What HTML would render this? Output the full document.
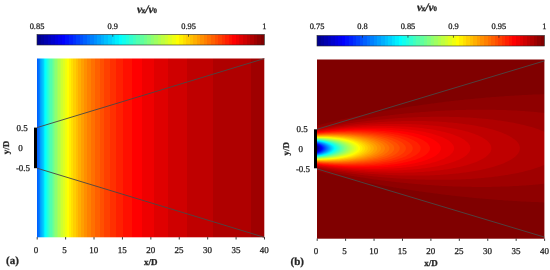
<!DOCTYPE html><html><head><meta charset="utf-8"><title>figure</title>
<style>html,body{margin:0;padding:0;background:#fff;}svg{display:block}text{font-family:"Liberation Serif", "DejaVu Serif", serif;fill:#262626;text-rendering:geometricPrecision;stroke:#262626;stroke-width:0.28px}</style></head><body>
<svg width="550" height="270" viewBox="0 0 550 270">
<rect width="550" height="270" fill="#fff"/>
<g id="plot-a">
<defs><linearGradient id="cb37" x1="0" y1="0" x2="1" y2="0"><stop offset="0.00000" stop-color="#00008f"/><stop offset="0.01562" stop-color="#00008f"/><stop offset="0.01562" stop-color="#00009f"/><stop offset="0.03125" stop-color="#00009f"/><stop offset="0.03125" stop-color="#0000af"/><stop offset="0.04688" stop-color="#0000af"/><stop offset="0.04688" stop-color="#0000bf"/><stop offset="0.06250" stop-color="#0000bf"/><stop offset="0.06250" stop-color="#0000cf"/><stop offset="0.07812" stop-color="#0000cf"/><stop offset="0.07812" stop-color="#0000df"/><stop offset="0.09375" stop-color="#0000df"/><stop offset="0.09375" stop-color="#0000ef"/><stop offset="0.10938" stop-color="#0000ef"/><stop offset="0.10938" stop-color="#0000ff"/><stop offset="0.12500" stop-color="#0000ff"/><stop offset="0.12500" stop-color="#0010ff"/><stop offset="0.14062" stop-color="#0010ff"/><stop offset="0.14062" stop-color="#0020ff"/><stop offset="0.15625" stop-color="#0020ff"/><stop offset="0.15625" stop-color="#0030ff"/><stop offset="0.17188" stop-color="#0030ff"/><stop offset="0.17188" stop-color="#0040ff"/><stop offset="0.18750" stop-color="#0040ff"/><stop offset="0.18750" stop-color="#0050ff"/><stop offset="0.20312" stop-color="#0050ff"/><stop offset="0.20312" stop-color="#0060ff"/><stop offset="0.21875" stop-color="#0060ff"/><stop offset="0.21875" stop-color="#0070ff"/><stop offset="0.23438" stop-color="#0070ff"/><stop offset="0.23438" stop-color="#0080ff"/><stop offset="0.25000" stop-color="#0080ff"/><stop offset="0.25000" stop-color="#008fff"/><stop offset="0.26562" stop-color="#008fff"/><stop offset="0.26562" stop-color="#009fff"/><stop offset="0.28125" stop-color="#009fff"/><stop offset="0.28125" stop-color="#00afff"/><stop offset="0.29688" stop-color="#00afff"/><stop offset="0.29688" stop-color="#00bfff"/><stop offset="0.31250" stop-color="#00bfff"/><stop offset="0.31250" stop-color="#00cfff"/><stop offset="0.32812" stop-color="#00cfff"/><stop offset="0.32812" stop-color="#00dfff"/><stop offset="0.34375" stop-color="#00dfff"/><stop offset="0.34375" stop-color="#00efff"/><stop offset="0.35938" stop-color="#00efff"/><stop offset="0.35938" stop-color="#00ffff"/><stop offset="0.37500" stop-color="#00ffff"/><stop offset="0.37500" stop-color="#10ffef"/><stop offset="0.39062" stop-color="#10ffef"/><stop offset="0.39062" stop-color="#20ffdf"/><stop offset="0.40625" stop-color="#20ffdf"/><stop offset="0.40625" stop-color="#30ffcf"/><stop offset="0.42188" stop-color="#30ffcf"/><stop offset="0.42188" stop-color="#40ffbf"/><stop offset="0.43750" stop-color="#40ffbf"/><stop offset="0.43750" stop-color="#50ffaf"/><stop offset="0.45312" stop-color="#50ffaf"/><stop offset="0.45312" stop-color="#60ff9f"/><stop offset="0.46875" stop-color="#60ff9f"/><stop offset="0.46875" stop-color="#70ff8f"/><stop offset="0.48438" stop-color="#70ff8f"/><stop offset="0.48438" stop-color="#80ff80"/><stop offset="0.50000" stop-color="#80ff80"/><stop offset="0.50000" stop-color="#8fff70"/><stop offset="0.51562" stop-color="#8fff70"/><stop offset="0.51562" stop-color="#9fff60"/><stop offset="0.53125" stop-color="#9fff60"/><stop offset="0.53125" stop-color="#afff50"/><stop offset="0.54688" stop-color="#afff50"/><stop offset="0.54688" stop-color="#bfff40"/><stop offset="0.56250" stop-color="#bfff40"/><stop offset="0.56250" stop-color="#cfff30"/><stop offset="0.57812" stop-color="#cfff30"/><stop offset="0.57812" stop-color="#dfff20"/><stop offset="0.59375" stop-color="#dfff20"/><stop offset="0.59375" stop-color="#efff10"/><stop offset="0.60938" stop-color="#efff10"/><stop offset="0.60938" stop-color="#ffff00"/><stop offset="0.62500" stop-color="#ffff00"/><stop offset="0.62500" stop-color="#ffef00"/><stop offset="0.64062" stop-color="#ffef00"/><stop offset="0.64062" stop-color="#ffdf00"/><stop offset="0.65625" stop-color="#ffdf00"/><stop offset="0.65625" stop-color="#ffcf00"/><stop offset="0.67188" stop-color="#ffcf00"/><stop offset="0.67188" stop-color="#ffbf00"/><stop offset="0.68750" stop-color="#ffbf00"/><stop offset="0.68750" stop-color="#ffaf00"/><stop offset="0.70312" stop-color="#ffaf00"/><stop offset="0.70312" stop-color="#ff9f00"/><stop offset="0.71875" stop-color="#ff9f00"/><stop offset="0.71875" stop-color="#ff8f00"/><stop offset="0.73438" stop-color="#ff8f00"/><stop offset="0.73438" stop-color="#ff8000"/><stop offset="0.75000" stop-color="#ff8000"/><stop offset="0.75000" stop-color="#ff7000"/><stop offset="0.76562" stop-color="#ff7000"/><stop offset="0.76562" stop-color="#ff6000"/><stop offset="0.78125" stop-color="#ff6000"/><stop offset="0.78125" stop-color="#ff5000"/><stop offset="0.79688" stop-color="#ff5000"/><stop offset="0.79688" stop-color="#ff4000"/><stop offset="0.81250" stop-color="#ff4000"/><stop offset="0.81250" stop-color="#ff3000"/><stop offset="0.82812" stop-color="#ff3000"/><stop offset="0.82812" stop-color="#ff2000"/><stop offset="0.84375" stop-color="#ff2000"/><stop offset="0.84375" stop-color="#ff1000"/><stop offset="0.85938" stop-color="#ff1000"/><stop offset="0.85938" stop-color="#ff0000"/><stop offset="0.87500" stop-color="#ff0000"/><stop offset="0.87500" stop-color="#ef0000"/><stop offset="0.89062" stop-color="#ef0000"/><stop offset="0.89062" stop-color="#df0000"/><stop offset="0.90625" stop-color="#df0000"/><stop offset="0.90625" stop-color="#cf0000"/><stop offset="0.92188" stop-color="#cf0000"/><stop offset="0.92188" stop-color="#bf0000"/><stop offset="0.93750" stop-color="#bf0000"/><stop offset="0.93750" stop-color="#af0000"/><stop offset="0.95312" stop-color="#af0000"/><stop offset="0.95312" stop-color="#9f0000"/><stop offset="0.96875" stop-color="#9f0000"/><stop offset="0.96875" stop-color="#8f0000"/><stop offset="0.98438" stop-color="#8f0000"/><stop offset="0.98438" stop-color="#800000"/><stop offset="1.00000" stop-color="#800000"/></linearGradient></defs><rect x="37.00" y="34.50" width="227.30" height="10.50" fill="url(#cb37)"/><rect x="37.00" y="34.50" width="227.30" height="10.50" fill="none" stroke="#262626" stroke-width="0.6"/>
<text x="37.00" y="28.50" text-anchor="middle" font-size="8.4" font-weight="normal" font-style="normal" >0.85</text>
<line x1="112.77" y1="34.50" x2="112.77" y2="36.70" stroke="#262626" stroke-width="0.7"/>
<text x="112.77" y="28.50" text-anchor="middle" font-size="8.4" font-weight="normal" font-style="normal" >0.9</text>
<line x1="188.53" y1="34.50" x2="188.53" y2="36.70" stroke="#262626" stroke-width="0.7"/>
<text x="188.53" y="28.50" text-anchor="middle" font-size="8.4" font-weight="normal" font-style="normal" >0.95</text>
<text x="264.30" y="28.50" text-anchor="middle" font-size="8.4" font-weight="normal" font-style="normal" >1</text>
<defs><linearGradient id="ga" x1="0" y1="0" x2="1" y2="0"><stop offset="0.00000" stop-color="#0050ff"/><stop offset="0.00183" stop-color="#0050ff"/><stop offset="0.00183" stop-color="#0060ff"/><stop offset="0.00483" stop-color="#0060ff"/><stop offset="0.00483" stop-color="#0070ff"/><stop offset="0.00791" stop-color="#0070ff"/><stop offset="0.00791" stop-color="#0080ff"/><stop offset="0.01109" stop-color="#0080ff"/><stop offset="0.01109" stop-color="#008fff"/><stop offset="0.01437" stop-color="#008fff"/><stop offset="0.01437" stop-color="#009fff"/><stop offset="0.01776" stop-color="#009fff"/><stop offset="0.01776" stop-color="#00afff"/><stop offset="0.02126" stop-color="#00afff"/><stop offset="0.02126" stop-color="#00bfff"/><stop offset="0.02488" stop-color="#00bfff"/><stop offset="0.02488" stop-color="#00cfff"/><stop offset="0.02863" stop-color="#00cfff"/><stop offset="0.02863" stop-color="#00dfff"/><stop offset="0.03250" stop-color="#00dfff"/><stop offset="0.03250" stop-color="#00efff"/><stop offset="0.03652" stop-color="#00efff"/><stop offset="0.03652" stop-color="#00ffff"/><stop offset="0.04069" stop-color="#00ffff"/><stop offset="0.04069" stop-color="#10ffef"/><stop offset="0.04502" stop-color="#10ffef"/><stop offset="0.04502" stop-color="#20ffdf"/><stop offset="0.04952" stop-color="#20ffdf"/><stop offset="0.04952" stop-color="#30ffcf"/><stop offset="0.05420" stop-color="#30ffcf"/><stop offset="0.05420" stop-color="#40ffbf"/><stop offset="0.05907" stop-color="#40ffbf"/><stop offset="0.05907" stop-color="#50ffaf"/><stop offset="0.06415" stop-color="#50ffaf"/><stop offset="0.06415" stop-color="#60ff9f"/><stop offset="0.06945" stop-color="#60ff9f"/><stop offset="0.06945" stop-color="#70ff8f"/><stop offset="0.07499" stop-color="#70ff8f"/><stop offset="0.07499" stop-color="#80ff80"/><stop offset="0.08079" stop-color="#80ff80"/><stop offset="0.08079" stop-color="#8fff70"/><stop offset="0.08687" stop-color="#8fff70"/><stop offset="0.08687" stop-color="#9fff60"/><stop offset="0.09325" stop-color="#9fff60"/><stop offset="0.09325" stop-color="#afff50"/><stop offset="0.09996" stop-color="#afff50"/><stop offset="0.09996" stop-color="#bfff40"/><stop offset="0.10702" stop-color="#bfff40"/><stop offset="0.10702" stop-color="#cfff30"/><stop offset="0.11447" stop-color="#cfff30"/><stop offset="0.11447" stop-color="#dfff20"/><stop offset="0.12235" stop-color="#dfff20"/><stop offset="0.12235" stop-color="#efff10"/><stop offset="0.13069" stop-color="#efff10"/><stop offset="0.13069" stop-color="#ffff00"/><stop offset="0.13955" stop-color="#ffff00"/><stop offset="0.13955" stop-color="#ffef00"/><stop offset="0.14899" stop-color="#ffef00"/><stop offset="0.14899" stop-color="#ffdf00"/><stop offset="0.15906" stop-color="#ffdf00"/><stop offset="0.15906" stop-color="#ffcf00"/><stop offset="0.16984" stop-color="#ffcf00"/><stop offset="0.16984" stop-color="#ffbf00"/><stop offset="0.18142" stop-color="#ffbf00"/><stop offset="0.18142" stop-color="#ffaf00"/><stop offset="0.19390" stop-color="#ffaf00"/><stop offset="0.19390" stop-color="#ff9f00"/><stop offset="0.20740" stop-color="#ff9f00"/><stop offset="0.20740" stop-color="#ff8f00"/><stop offset="0.22209" stop-color="#ff8f00"/><stop offset="0.22209" stop-color="#ff8000"/><stop offset="0.23813" stop-color="#ff8000"/><stop offset="0.23813" stop-color="#ff7000"/><stop offset="0.25574" stop-color="#ff7000"/><stop offset="0.25574" stop-color="#ff6000"/><stop offset="0.27521" stop-color="#ff6000"/><stop offset="0.27521" stop-color="#ff5000"/><stop offset="0.29689" stop-color="#ff5000"/><stop offset="0.29689" stop-color="#ff4000"/><stop offset="0.32123" stop-color="#ff4000"/><stop offset="0.32123" stop-color="#ff3000"/><stop offset="0.34881" stop-color="#ff3000"/><stop offset="0.34881" stop-color="#ff2000"/><stop offset="0.38043" stop-color="#ff2000"/><stop offset="0.38043" stop-color="#ff1000"/><stop offset="0.41718" stop-color="#ff1000"/><stop offset="0.41718" stop-color="#ff0000"/><stop offset="0.46063" stop-color="#ff0000"/><stop offset="0.46063" stop-color="#ef0000"/><stop offset="0.51308" stop-color="#ef0000"/><stop offset="0.51308" stop-color="#df0000"/><stop offset="0.57815" stop-color="#df0000"/><stop offset="0.57815" stop-color="#cf0000"/><stop offset="0.66187" stop-color="#cf0000"/><stop offset="0.66187" stop-color="#bf0000"/><stop offset="0.77529" stop-color="#bf0000"/><stop offset="0.77529" stop-color="#af0000"/><stop offset="0.94150" stop-color="#af0000"/><stop offset="0.94150" stop-color="#9f0000"/><stop offset="1.00000" stop-color="#9f0000"/></linearGradient></defs><rect x="37.00" y="58.50" width="227.30" height="178.80" fill="url(#ga)"/>
<line x1="37.00" y1="127.60" x2="264.30" y2="58.60" stroke="#4c4644" stroke-width="1" stroke-opacity="0.92"/>
<line x1="37.00" y1="168.20" x2="264.30" y2="237.30" stroke="#4c4644" stroke-width="1" stroke-opacity="0.92"/>
<rect x="34.00" y="127.60" width="3" height="40.60" fill="#000"/>
<line x1="37.20" y1="237.10" x2="37.20" y2="239.50" stroke="#222" stroke-width="0.9"/><line x1="65.61" y1="237.10" x2="65.61" y2="239.50" stroke="#222" stroke-width="0.9"/><line x1="94.03" y1="237.10" x2="94.03" y2="239.50" stroke="#222" stroke-width="0.9"/><line x1="122.44" y1="237.10" x2="122.44" y2="239.50" stroke="#222" stroke-width="0.9"/><line x1="150.85" y1="237.10" x2="150.85" y2="239.50" stroke="#222" stroke-width="0.9"/><line x1="179.26" y1="237.10" x2="179.26" y2="239.50" stroke="#222" stroke-width="0.9"/><line x1="207.68" y1="237.10" x2="207.68" y2="239.50" stroke="#222" stroke-width="0.9"/><line x1="236.09" y1="237.10" x2="236.09" y2="239.50" stroke="#222" stroke-width="0.9"/><line x1="264.50" y1="237.10" x2="264.50" y2="239.50" stroke="#222" stroke-width="0.9"/>
<text x="36.00" y="252.60" text-anchor="middle" font-size="9" font-weight="normal" font-style="normal" >0</text>
<text x="64.41" y="252.60" text-anchor="middle" font-size="9" font-weight="normal" font-style="normal" >5</text>
<text x="93.83" y="252.60" text-anchor="middle" font-size="9" font-weight="normal" font-style="normal" >10</text>
<text x="122.24" y="252.60" text-anchor="middle" font-size="9" font-weight="normal" font-style="normal" >15</text>
<text x="150.65" y="252.60" text-anchor="middle" font-size="9" font-weight="normal" font-style="normal" >20</text>
<text x="179.06" y="252.60" text-anchor="middle" font-size="9" font-weight="normal" font-style="normal" >25</text>
<text x="207.48" y="252.60" text-anchor="middle" font-size="9" font-weight="normal" font-style="normal" >30</text>
<text x="235.89" y="252.60" text-anchor="middle" font-size="9" font-weight="normal" font-style="normal" >35</text>
<text x="264.30" y="252.60" text-anchor="middle" font-size="9" font-weight="normal" font-style="normal" >40</text>
<text x="22.00" y="130.70" text-anchor="middle" font-size="9" font-weight="normal" font-style="normal" >0.5</text>
<text x="20.60" y="151.00" text-anchor="middle" font-size="9" font-weight="normal" font-style="normal" >0</text>
<text x="23.00" y="171.00" text-anchor="middle" font-size="9" font-weight="normal" font-style="normal" >-0.5</text>
<text x="150.70" y="264.80" text-anchor="middle" font-size="9" font-weight="bold" font-style="normal" >x/D</text>
<text transform="translate(8.6,147.6) rotate(-90)" text-anchor="middle" font-size="9" font-weight="bold">y/D</text>
<text x="6.00" y="264.30" text-anchor="start" font-size="11" font-weight="bold" font-style="normal" >(a)</text>
<text x="136.90" y="12.70" text-anchor="start" font-size="11.5" font-weight="bold" font-style="italic">v<tspan font-size="7.6" font-style="normal" dy="0.2" dx="-0.5">x</tspan><tspan dy="-0.2">/</tspan>v<tspan font-size="6.9" font-style="normal" dy="0.2">0</tspan></text>
</g>
<g id="plot-b">
<defs><linearGradient id="cb317" x1="0" y1="0" x2="1" y2="0"><stop offset="0.00000" stop-color="#00008f"/><stop offset="0.01562" stop-color="#00008f"/><stop offset="0.01562" stop-color="#00009f"/><stop offset="0.03125" stop-color="#00009f"/><stop offset="0.03125" stop-color="#0000af"/><stop offset="0.04688" stop-color="#0000af"/><stop offset="0.04688" stop-color="#0000bf"/><stop offset="0.06250" stop-color="#0000bf"/><stop offset="0.06250" stop-color="#0000cf"/><stop offset="0.07812" stop-color="#0000cf"/><stop offset="0.07812" stop-color="#0000df"/><stop offset="0.09375" stop-color="#0000df"/><stop offset="0.09375" stop-color="#0000ef"/><stop offset="0.10938" stop-color="#0000ef"/><stop offset="0.10938" stop-color="#0000ff"/><stop offset="0.12500" stop-color="#0000ff"/><stop offset="0.12500" stop-color="#0010ff"/><stop offset="0.14062" stop-color="#0010ff"/><stop offset="0.14062" stop-color="#0020ff"/><stop offset="0.15625" stop-color="#0020ff"/><stop offset="0.15625" stop-color="#0030ff"/><stop offset="0.17188" stop-color="#0030ff"/><stop offset="0.17188" stop-color="#0040ff"/><stop offset="0.18750" stop-color="#0040ff"/><stop offset="0.18750" stop-color="#0050ff"/><stop offset="0.20312" stop-color="#0050ff"/><stop offset="0.20312" stop-color="#0060ff"/><stop offset="0.21875" stop-color="#0060ff"/><stop offset="0.21875" stop-color="#0070ff"/><stop offset="0.23438" stop-color="#0070ff"/><stop offset="0.23438" stop-color="#0080ff"/><stop offset="0.25000" stop-color="#0080ff"/><stop offset="0.25000" stop-color="#008fff"/><stop offset="0.26562" stop-color="#008fff"/><stop offset="0.26562" stop-color="#009fff"/><stop offset="0.28125" stop-color="#009fff"/><stop offset="0.28125" stop-color="#00afff"/><stop offset="0.29688" stop-color="#00afff"/><stop offset="0.29688" stop-color="#00bfff"/><stop offset="0.31250" stop-color="#00bfff"/><stop offset="0.31250" stop-color="#00cfff"/><stop offset="0.32812" stop-color="#00cfff"/><stop offset="0.32812" stop-color="#00dfff"/><stop offset="0.34375" stop-color="#00dfff"/><stop offset="0.34375" stop-color="#00efff"/><stop offset="0.35938" stop-color="#00efff"/><stop offset="0.35938" stop-color="#00ffff"/><stop offset="0.37500" stop-color="#00ffff"/><stop offset="0.37500" stop-color="#10ffef"/><stop offset="0.39062" stop-color="#10ffef"/><stop offset="0.39062" stop-color="#20ffdf"/><stop offset="0.40625" stop-color="#20ffdf"/><stop offset="0.40625" stop-color="#30ffcf"/><stop offset="0.42188" stop-color="#30ffcf"/><stop offset="0.42188" stop-color="#40ffbf"/><stop offset="0.43750" stop-color="#40ffbf"/><stop offset="0.43750" stop-color="#50ffaf"/><stop offset="0.45312" stop-color="#50ffaf"/><stop offset="0.45312" stop-color="#60ff9f"/><stop offset="0.46875" stop-color="#60ff9f"/><stop offset="0.46875" stop-color="#70ff8f"/><stop offset="0.48438" stop-color="#70ff8f"/><stop offset="0.48438" stop-color="#80ff80"/><stop offset="0.50000" stop-color="#80ff80"/><stop offset="0.50000" stop-color="#8fff70"/><stop offset="0.51562" stop-color="#8fff70"/><stop offset="0.51562" stop-color="#9fff60"/><stop offset="0.53125" stop-color="#9fff60"/><stop offset="0.53125" stop-color="#afff50"/><stop offset="0.54688" stop-color="#afff50"/><stop offset="0.54688" stop-color="#bfff40"/><stop offset="0.56250" stop-color="#bfff40"/><stop offset="0.56250" stop-color="#cfff30"/><stop offset="0.57812" stop-color="#cfff30"/><stop offset="0.57812" stop-color="#dfff20"/><stop offset="0.59375" stop-color="#dfff20"/><stop offset="0.59375" stop-color="#efff10"/><stop offset="0.60938" stop-color="#efff10"/><stop offset="0.60938" stop-color="#ffff00"/><stop offset="0.62500" stop-color="#ffff00"/><stop offset="0.62500" stop-color="#ffef00"/><stop offset="0.64062" stop-color="#ffef00"/><stop offset="0.64062" stop-color="#ffdf00"/><stop offset="0.65625" stop-color="#ffdf00"/><stop offset="0.65625" stop-color="#ffcf00"/><stop offset="0.67188" stop-color="#ffcf00"/><stop offset="0.67188" stop-color="#ffbf00"/><stop offset="0.68750" stop-color="#ffbf00"/><stop offset="0.68750" stop-color="#ffaf00"/><stop offset="0.70312" stop-color="#ffaf00"/><stop offset="0.70312" stop-color="#ff9f00"/><stop offset="0.71875" stop-color="#ff9f00"/><stop offset="0.71875" stop-color="#ff8f00"/><stop offset="0.73438" stop-color="#ff8f00"/><stop offset="0.73438" stop-color="#ff8000"/><stop offset="0.75000" stop-color="#ff8000"/><stop offset="0.75000" stop-color="#ff7000"/><stop offset="0.76562" stop-color="#ff7000"/><stop offset="0.76562" stop-color="#ff6000"/><stop offset="0.78125" stop-color="#ff6000"/><stop offset="0.78125" stop-color="#ff5000"/><stop offset="0.79688" stop-color="#ff5000"/><stop offset="0.79688" stop-color="#ff4000"/><stop offset="0.81250" stop-color="#ff4000"/><stop offset="0.81250" stop-color="#ff3000"/><stop offset="0.82812" stop-color="#ff3000"/><stop offset="0.82812" stop-color="#ff2000"/><stop offset="0.84375" stop-color="#ff2000"/><stop offset="0.84375" stop-color="#ff1000"/><stop offset="0.85938" stop-color="#ff1000"/><stop offset="0.85938" stop-color="#ff0000"/><stop offset="0.87500" stop-color="#ff0000"/><stop offset="0.87500" stop-color="#ef0000"/><stop offset="0.89062" stop-color="#ef0000"/><stop offset="0.89062" stop-color="#df0000"/><stop offset="0.90625" stop-color="#df0000"/><stop offset="0.90625" stop-color="#cf0000"/><stop offset="0.92188" stop-color="#cf0000"/><stop offset="0.92188" stop-color="#bf0000"/><stop offset="0.93750" stop-color="#bf0000"/><stop offset="0.93750" stop-color="#af0000"/><stop offset="0.95312" stop-color="#af0000"/><stop offset="0.95312" stop-color="#9f0000"/><stop offset="0.96875" stop-color="#9f0000"/><stop offset="0.96875" stop-color="#8f0000"/><stop offset="0.98438" stop-color="#8f0000"/><stop offset="0.98438" stop-color="#800000"/><stop offset="1.00000" stop-color="#800000"/></linearGradient></defs><rect x="317.00" y="35.50" width="227.40" height="10.50" fill="url(#cb317)"/><rect x="317.00" y="35.50" width="227.40" height="10.50" fill="none" stroke="#262626" stroke-width="0.6"/>
<text x="317.00" y="29.10" text-anchor="middle" font-size="8.4" font-weight="normal" font-style="normal" >0.75</text>
<line x1="362.48" y1="35.50" x2="362.48" y2="37.70" stroke="#262626" stroke-width="0.7"/>
<text x="362.48" y="29.10" text-anchor="middle" font-size="8.4" font-weight="normal" font-style="normal" >0.8</text>
<line x1="407.96" y1="35.50" x2="407.96" y2="37.70" stroke="#262626" stroke-width="0.7"/>
<text x="407.96" y="29.10" text-anchor="middle" font-size="8.4" font-weight="normal" font-style="normal" >0.85</text>
<line x1="453.44" y1="35.50" x2="453.44" y2="37.70" stroke="#262626" stroke-width="0.7"/>
<text x="453.44" y="29.10" text-anchor="middle" font-size="8.4" font-weight="normal" font-style="normal" >0.9</text>
<line x1="498.92" y1="35.50" x2="498.92" y2="37.70" stroke="#262626" stroke-width="0.7"/>
<text x="498.92" y="29.10" text-anchor="middle" font-size="8.4" font-weight="normal" font-style="normal" >0.95</text>
<text x="544.40" y="29.10" text-anchor="middle" font-size="8.4" font-weight="normal" font-style="normal" >1</text>
<rect x="317.00" y="57.50" width="230.40" height="183.20" fill="#800000"/><path d="M317.0,125.5 L318.5,125.1 L320.0,124.7 L321.5,124.3 L323.0,124.0 L324.6,123.6 L326.1,123.2 L327.6,122.8 L329.1,122.5 L330.6,122.1 L332.1,121.7 L333.6,121.4 L335.1,121.0 L336.6,120.7 L338.2,120.3 L339.7,120.0 L341.2,119.6 L342.7,119.3 L344.2,119.0 L345.7,118.6 L347.2,118.3 L348.7,118.0 L350.2,117.6 L351.8,117.3 L353.3,117.0 L354.8,116.7 L356.3,116.3 L357.8,116.0 L359.3,115.7 L360.8,115.4 L362.3,115.1 L363.8,114.8 L365.4,114.5 L366.9,114.2 L368.4,113.9 L369.9,113.6 L371.4,113.3 L372.9,113.0 L374.4,112.8 L375.9,112.5 L377.4,112.2 L379.0,111.9 L380.5,111.6 L382.0,111.4 L383.5,111.1 L385.0,110.8 L386.5,110.5 L388.0,110.3 L389.5,110.0 L391.0,109.8 L392.6,109.5 L394.1,109.2 L395.6,109.0 L397.1,108.7 L398.6,108.5 L400.1,108.2 L401.6,108.0 L403.1,107.8 L404.6,107.5 L406.1,107.3 L407.7,107.0 L409.2,106.8 L410.7,106.6 L412.2,106.3 L413.7,106.1 L415.2,105.9 L416.7,105.7 L418.2,105.5 L419.7,105.2 L421.3,105.0 L422.8,104.8 L424.3,104.6 L425.8,104.4 L427.3,104.2 L428.8,104.0 L430.3,103.8 L431.8,103.6 L433.3,103.4 L434.9,103.2 L436.4,103.0 L437.9,102.8 L439.4,102.6 L440.9,102.4 L442.4,102.2 L443.9,102.0 L445.4,101.8 L446.9,101.6 L448.5,101.5 L450.0,101.3 L451.5,101.1 L453.0,100.9 L454.5,100.8 L456.0,100.6 L457.5,100.4 L459.0,100.3 L460.5,100.1 L462.1,99.9 L463.6,99.8 L465.1,99.6 L466.6,99.5 L468.1,99.3 L469.6,99.2 L471.1,99.0 L472.6,98.9 L474.1,98.7 L475.7,98.6 L477.2,98.4 L478.7,98.3 L480.2,98.2 L481.7,98.0 L483.2,97.9 L484.7,97.8 L486.2,97.6 L487.7,97.5 L489.3,97.4 L490.8,97.3 L492.3,97.1 L493.8,97.0 L495.3,96.9 L496.8,96.8 L498.3,96.7 L499.8,96.6 L501.3,96.5 L502.9,96.4 L504.4,96.2 L505.9,96.1 L507.4,96.0 L508.9,95.9 L510.4,95.8 L511.9,95.8 L513.4,95.7 L514.9,95.6 L516.5,95.5 L518.0,95.4 L519.5,95.3 L521.0,95.2 L522.5,95.1 L524.0,95.1 L525.5,95.0 L527.0,94.9 L528.5,94.8 L530.1,94.8 L531.6,94.7 L533.1,94.6 L534.6,94.6 L536.1,94.5 L537.6,94.5 L539.1,94.4 L540.6,94.3 L542.1,94.3 L543.7,94.2 L545.2,94.2 L546.7,94.1 L546.7,202.5 L545.2,202.4 L543.7,202.4 L542.1,202.3 L540.6,202.3 L539.1,202.2 L537.6,202.1 L536.1,202.1 L534.6,202.0 L533.1,202.0 L531.6,201.9 L530.1,201.8 L528.5,201.8 L527.0,201.7 L525.5,201.6 L524.0,201.5 L522.5,201.5 L521.0,201.4 L519.5,201.3 L518.0,201.2 L516.5,201.1 L514.9,201.0 L513.4,200.9 L511.9,200.8 L510.4,200.8 L508.9,200.7 L507.4,200.6 L505.9,200.5 L504.4,200.4 L502.9,200.2 L501.3,200.1 L499.8,200.0 L498.3,199.9 L496.8,199.8 L495.3,199.7 L493.8,199.6 L492.3,199.5 L490.8,199.3 L489.3,199.2 L487.7,199.1 L486.2,199.0 L484.7,198.8 L483.2,198.7 L481.7,198.6 L480.2,198.4 L478.7,198.3 L477.2,198.2 L475.7,198.0 L474.1,197.9 L472.6,197.7 L471.1,197.6 L469.6,197.4 L468.1,197.3 L466.6,197.1 L465.1,197.0 L463.6,196.8 L462.1,196.7 L460.5,196.5 L459.0,196.3 L457.5,196.2 L456.0,196.0 L454.5,195.8 L453.0,195.7 L451.5,195.5 L450.0,195.3 L448.5,195.1 L446.9,195.0 L445.4,194.8 L443.9,194.6 L442.4,194.4 L440.9,194.2 L439.4,194.0 L437.9,193.8 L436.4,193.6 L434.9,193.4 L433.3,193.2 L431.8,193.0 L430.3,192.8 L428.8,192.6 L427.3,192.4 L425.8,192.2 L424.3,192.0 L422.8,191.8 L421.3,191.6 L419.7,191.4 L418.2,191.1 L416.7,190.9 L415.2,190.7 L413.7,190.5 L412.2,190.3 L410.7,190.0 L409.2,189.8 L407.7,189.6 L406.1,189.3 L404.6,189.1 L403.1,188.8 L401.6,188.6 L400.1,188.4 L398.6,188.1 L397.1,187.9 L395.6,187.6 L394.1,187.4 L392.6,187.1 L391.0,186.8 L389.5,186.6 L388.0,186.3 L386.5,186.1 L385.0,185.8 L383.5,185.5 L382.0,185.2 L380.5,185.0 L379.0,184.7 L377.4,184.4 L375.9,184.1 L374.4,183.8 L372.9,183.6 L371.4,183.3 L369.9,183.0 L368.4,182.7 L366.9,182.4 L365.4,182.1 L363.8,181.8 L362.3,181.5 L360.8,181.2 L359.3,180.9 L357.8,180.6 L356.3,180.3 L354.8,179.9 L353.3,179.6 L351.8,179.3 L350.2,179.0 L348.7,178.6 L347.2,178.3 L345.7,178.0 L344.2,177.6 L342.7,177.3 L341.2,177.0 L339.7,176.6 L338.2,176.3 L336.6,175.9 L335.1,175.6 L333.6,175.2 L332.1,174.9 L330.6,174.5 L329.1,174.1 L327.6,173.8 L326.1,173.4 L324.6,173.0 L323.0,172.6 L321.5,172.3 L320.0,171.9 L318.5,171.5 L317.0,171.1 Z" fill="#8f0000"/><path d="M317.0,127.5 L318.5,127.1 L320.0,126.8 L321.5,126.5 L323.0,126.2 L324.6,125.8 L326.1,125.5 L327.6,125.2 L329.1,124.9 L330.6,124.6 L332.1,124.3 L333.6,124.0 L335.1,123.7 L336.6,123.4 L338.2,123.1 L339.7,122.9 L341.2,122.6 L342.7,122.3 L344.2,122.0 L345.7,121.8 L347.2,121.5 L348.7,121.2 L350.2,121.0 L351.8,120.7 L353.3,120.5 L354.8,120.2 L356.3,120.0 L357.8,119.7 L359.3,119.5 L360.8,119.2 L362.3,119.0 L363.8,118.8 L365.4,118.5 L366.9,118.3 L368.4,118.1 L369.9,117.9 L371.4,117.7 L372.9,117.4 L374.4,117.2 L375.9,117.0 L377.4,116.8 L379.0,116.6 L380.5,116.4 L382.0,116.2 L383.5,116.0 L385.0,115.8 L386.5,115.7 L388.0,115.5 L389.5,115.3 L391.0,115.1 L392.6,114.9 L394.1,114.8 L395.6,114.6 L397.1,114.4 L398.6,114.3 L400.1,114.1 L401.6,113.9 L403.1,113.8 L404.6,113.6 L406.1,113.5 L407.7,113.3 L409.2,113.2 L410.7,113.0 L412.2,112.9 L413.7,112.8 L415.2,112.6 L416.7,112.5 L418.2,112.4 L419.7,112.3 L421.3,112.1 L422.8,112.0 L424.3,111.9 L425.8,111.8 L427.3,111.7 L428.8,111.6 L430.3,111.5 L431.8,111.4 L433.3,111.3 L434.9,111.2 L436.4,111.1 L437.9,111.0 L439.4,110.9 L440.9,110.8 L442.4,110.7 L443.9,110.7 L445.4,110.6 L446.9,110.5 L448.5,110.4 L450.0,110.4 L451.5,110.3 L453.0,110.2 L454.5,110.2 L456.0,110.1 L457.5,110.1 L459.0,110.0 L460.5,110.0 L462.1,109.9 L463.6,109.9 L465.1,109.9 L466.6,109.8 L468.1,109.8 L469.6,109.8 L471.1,109.8 L472.6,109.7 L474.1,109.7 L475.7,109.7 L477.2,109.7 L478.7,109.7 L480.2,109.7 L481.7,109.7 L483.2,109.7 L484.7,109.7 L486.2,109.7 L487.7,109.7 L489.3,109.7 L490.8,109.7 L492.3,109.8 L493.8,109.8 L495.3,109.8 L496.8,109.9 L498.3,109.9 L499.8,109.9 L501.3,110.0 L502.9,110.0 L504.4,110.1 L505.9,110.1 L507.4,110.2 L508.9,110.2 L510.4,110.3 L511.9,110.4 L513.4,110.5 L514.9,110.5 L516.5,110.6 L518.0,110.7 L519.5,110.8 L521.0,110.9 L522.5,111.0 L524.0,111.1 L525.5,111.2 L527.0,111.3 L528.5,111.4 L530.1,111.5 L531.6,111.7 L533.1,111.8 L534.6,111.9 L536.1,112.1 L537.6,112.2 L539.1,112.4 L540.6,112.5 L542.1,112.7 L543.7,112.8 L545.2,113.0 L546.7,113.2 L546.7,183.4 L545.2,183.6 L543.7,183.8 L542.1,183.9 L540.6,184.1 L539.1,184.2 L537.6,184.4 L536.1,184.5 L534.6,184.7 L533.1,184.8 L531.6,184.9 L530.1,185.1 L528.5,185.2 L527.0,185.3 L525.5,185.4 L524.0,185.5 L522.5,185.6 L521.0,185.7 L519.5,185.8 L518.0,185.9 L516.5,186.0 L514.9,186.1 L513.4,186.1 L511.9,186.2 L510.4,186.3 L508.9,186.4 L507.4,186.4 L505.9,186.5 L504.4,186.5 L502.9,186.6 L501.3,186.6 L499.8,186.7 L498.3,186.7 L496.8,186.7 L495.3,186.8 L493.8,186.8 L492.3,186.8 L490.8,186.9 L489.3,186.9 L487.7,186.9 L486.2,186.9 L484.7,186.9 L483.2,186.9 L481.7,186.9 L480.2,186.9 L478.7,186.9 L477.2,186.9 L475.7,186.9 L474.1,186.9 L472.6,186.9 L471.1,186.8 L469.6,186.8 L468.1,186.8 L466.6,186.8 L465.1,186.7 L463.6,186.7 L462.1,186.7 L460.5,186.6 L459.0,186.6 L457.5,186.5 L456.0,186.5 L454.5,186.4 L453.0,186.4 L451.5,186.3 L450.0,186.2 L448.5,186.2 L446.9,186.1 L445.4,186.0 L443.9,185.9 L442.4,185.9 L440.9,185.8 L439.4,185.7 L437.9,185.6 L436.4,185.5 L434.9,185.4 L433.3,185.3 L431.8,185.2 L430.3,185.1 L428.8,185.0 L427.3,184.9 L425.8,184.8 L424.3,184.7 L422.8,184.6 L421.3,184.5 L419.7,184.3 L418.2,184.2 L416.7,184.1 L415.2,184.0 L413.7,183.8 L412.2,183.7 L410.7,183.6 L409.2,183.4 L407.7,183.3 L406.1,183.1 L404.6,183.0 L403.1,182.8 L401.6,182.7 L400.1,182.5 L398.6,182.3 L397.1,182.2 L395.6,182.0 L394.1,181.8 L392.6,181.7 L391.0,181.5 L389.5,181.3 L388.0,181.1 L386.5,180.9 L385.0,180.8 L383.5,180.6 L382.0,180.4 L380.5,180.2 L379.0,180.0 L377.4,179.8 L375.9,179.6 L374.4,179.4 L372.9,179.2 L371.4,178.9 L369.9,178.7 L368.4,178.5 L366.9,178.3 L365.4,178.1 L363.8,177.8 L362.3,177.6 L360.8,177.4 L359.3,177.1 L357.8,176.9 L356.3,176.6 L354.8,176.4 L353.3,176.1 L351.8,175.9 L350.2,175.6 L348.7,175.4 L347.2,175.1 L345.7,174.8 L344.2,174.6 L342.7,174.3 L341.2,174.0 L339.7,173.7 L338.2,173.5 L336.6,173.2 L335.1,172.9 L333.6,172.6 L332.1,172.3 L330.6,172.0 L329.1,171.7 L327.6,171.4 L326.1,171.1 L324.6,170.8 L323.0,170.4 L321.5,170.1 L320.0,169.8 L318.5,169.5 L317.0,169.1 Z" fill="#9f0000"/><path d="M317.0,128.7 L318.5,128.4 L320.0,128.1 L321.5,127.8 L323.0,127.6 L324.6,127.3 L326.1,127.0 L327.6,126.7 L329.1,126.5 L330.6,126.2 L332.1,125.9 L333.6,125.7 L335.1,125.4 L336.6,125.2 L338.2,124.9 L339.7,124.7 L341.2,124.5 L342.7,124.2 L344.2,124.0 L345.7,123.8 L347.2,123.6 L348.7,123.3 L350.2,123.1 L351.8,122.9 L353.3,122.7 L354.8,122.5 L356.3,122.3 L357.8,122.1 L359.3,121.9 L360.8,121.7 L362.3,121.5 L363.8,121.4 L365.4,121.2 L366.9,121.0 L368.4,120.8 L369.9,120.7 L371.4,120.5 L372.9,120.3 L374.4,120.2 L375.9,120.0 L377.4,119.9 L379.0,119.7 L380.5,119.6 L382.0,119.4 L383.5,119.3 L385.0,119.2 L386.5,119.0 L388.0,118.9 L389.5,118.8 L391.0,118.7 L392.6,118.6 L394.1,118.4 L395.6,118.3 L397.1,118.2 L398.6,118.1 L400.1,118.0 L401.6,117.9 L403.1,117.8 L404.6,117.8 L406.1,117.7 L407.7,117.6 L409.2,117.5 L410.7,117.4 L412.2,117.4 L413.7,117.3 L415.2,117.3 L416.7,117.2 L418.2,117.1 L419.7,117.1 L421.3,117.0 L422.8,117.0 L424.3,117.0 L425.8,116.9 L427.3,116.9 L428.8,116.9 L430.3,116.8 L431.8,116.8 L433.3,116.8 L434.9,116.8 L436.4,116.8 L437.9,116.8 L439.4,116.8 L440.9,116.8 L442.4,116.8 L443.9,116.8 L445.4,116.8 L446.9,116.8 L448.5,116.8 L450.0,116.9 L451.5,116.9 L453.0,116.9 L454.5,117.0 L456.0,117.0 L457.5,117.1 L459.0,117.1 L460.5,117.2 L462.1,117.3 L463.6,117.3 L465.1,117.4 L466.6,117.5 L468.1,117.6 L469.6,117.6 L471.1,117.7 L472.6,117.8 L474.1,117.9 L475.7,118.0 L477.2,118.2 L478.7,118.3 L480.2,118.4 L481.7,118.5 L483.2,118.7 L484.7,118.8 L486.2,119.0 L487.7,119.1 L489.3,119.3 L490.8,119.4 L492.3,119.6 L493.8,119.8 L495.3,120.0 L496.8,120.2 L498.3,120.4 L499.8,120.6 L501.3,120.8 L502.9,121.0 L504.4,121.3 L505.9,121.5 L507.4,121.7 L508.9,122.0 L510.4,122.3 L511.9,122.5 L513.4,122.8 L514.9,123.1 L516.5,123.4 L518.0,123.7 L519.5,124.1 L521.0,124.4 L522.5,124.7 L524.0,125.1 L525.5,125.5 L527.0,125.9 L528.5,126.3 L530.1,126.7 L531.6,127.1 L533.1,127.6 L534.6,128.1 L536.1,128.6 L537.6,129.1 L539.1,129.6 L540.6,130.2 L542.1,130.8 L543.7,131.4 L545.2,132.1 L546.7,132.8 L546.7,163.8 L545.2,164.5 L543.7,165.2 L542.1,165.8 L540.6,166.4 L539.1,167.0 L537.6,167.5 L536.1,168.0 L534.6,168.5 L533.1,169.0 L531.6,169.5 L530.1,169.9 L528.5,170.3 L527.0,170.7 L525.5,171.1 L524.0,171.5 L522.5,171.9 L521.0,172.2 L519.5,172.5 L518.0,172.9 L516.5,173.2 L514.9,173.5 L513.4,173.8 L511.9,174.1 L510.4,174.3 L508.9,174.6 L507.4,174.9 L505.9,175.1 L504.4,175.3 L502.9,175.6 L501.3,175.8 L499.8,176.0 L498.3,176.2 L496.8,176.4 L495.3,176.6 L493.8,176.8 L492.3,177.0 L490.8,177.2 L489.3,177.3 L487.7,177.5 L486.2,177.6 L484.7,177.8 L483.2,177.9 L481.7,178.1 L480.2,178.2 L478.7,178.3 L477.2,178.4 L475.7,178.6 L474.1,178.7 L472.6,178.8 L471.1,178.9 L469.6,179.0 L468.1,179.0 L466.6,179.1 L465.1,179.2 L463.6,179.3 L462.1,179.3 L460.5,179.4 L459.0,179.5 L457.5,179.5 L456.0,179.6 L454.5,179.6 L453.0,179.7 L451.5,179.7 L450.0,179.7 L448.5,179.8 L446.9,179.8 L445.4,179.8 L443.9,179.8 L442.4,179.8 L440.9,179.8 L439.4,179.8 L437.9,179.8 L436.4,179.8 L434.9,179.8 L433.3,179.8 L431.8,179.8 L430.3,179.8 L428.8,179.7 L427.3,179.7 L425.8,179.7 L424.3,179.6 L422.8,179.6 L421.3,179.6 L419.7,179.5 L418.2,179.5 L416.7,179.4 L415.2,179.3 L413.7,179.3 L412.2,179.2 L410.7,179.2 L409.2,179.1 L407.7,179.0 L406.1,178.9 L404.6,178.8 L403.1,178.8 L401.6,178.7 L400.1,178.6 L398.6,178.5 L397.1,178.4 L395.6,178.3 L394.1,178.2 L392.6,178.0 L391.0,177.9 L389.5,177.8 L388.0,177.7 L386.5,177.6 L385.0,177.4 L383.5,177.3 L382.0,177.2 L380.5,177.0 L379.0,176.9 L377.4,176.7 L375.9,176.6 L374.4,176.4 L372.9,176.3 L371.4,176.1 L369.9,175.9 L368.4,175.8 L366.9,175.6 L365.4,175.4 L363.8,175.2 L362.3,175.1 L360.8,174.9 L359.3,174.7 L357.8,174.5 L356.3,174.3 L354.8,174.1 L353.3,173.9 L351.8,173.7 L350.2,173.5 L348.7,173.3 L347.2,173.0 L345.7,172.8 L344.2,172.6 L342.7,172.4 L341.2,172.1 L339.7,171.9 L338.2,171.7 L336.6,171.4 L335.1,171.2 L333.6,170.9 L332.1,170.7 L330.6,170.4 L329.1,170.1 L327.6,169.9 L326.1,169.6 L324.6,169.3 L323.0,169.0 L321.5,168.8 L320.0,168.5 L318.5,168.2 L317.0,167.9 Z" fill="#af0000"/><path d="M317.0,129.7 L318.5,129.4 L320.0,129.1 L321.5,128.9 L323.1,128.6 L324.6,128.4 L326.1,128.1 L327.6,127.9 L329.1,127.6 L330.6,127.4 L332.1,127.2 L333.7,127.0 L335.2,126.7 L336.7,126.5 L338.2,126.3 L339.7,126.1 L341.2,125.9 L342.7,125.7 L344.3,125.5 L345.8,125.3 L347.3,125.1 L348.8,124.9 L350.3,124.8 L351.8,124.6 L353.3,124.4 L354.9,124.3 L356.4,124.1 L357.9,123.9 L359.4,123.8 L360.9,123.6 L362.4,123.5 L363.9,123.3 L365.5,123.2 L367.0,123.1 L368.5,122.9 L370.0,122.8 L371.5,122.7 L373.0,122.6 L374.5,122.5 L376.1,122.4 L377.6,122.3 L379.1,122.1 L380.6,122.1 L382.1,122.0 L383.6,121.9 L385.1,121.8 L386.7,121.7 L388.2,121.6 L389.7,121.6 L391.2,121.5 L392.7,121.4 L394.2,121.4 L395.7,121.3 L397.3,121.3 L398.8,121.2 L400.3,121.2 L401.8,121.1 L403.3,121.1 L404.8,121.1 L406.3,121.0 L407.9,121.0 L409.4,121.0 L410.9,121.0 L412.4,121.0 L413.9,121.0 L415.4,121.0 L416.9,121.0 L418.5,121.0 L420.0,121.0 L421.5,121.1 L423.0,121.1 L424.5,121.1 L426.0,121.1 L427.5,121.2 L429.0,121.2 L430.6,121.3 L432.1,121.3 L433.6,121.4 L435.1,121.5 L436.6,121.6 L438.1,121.6 L439.6,121.7 L441.2,121.8 L442.7,121.9 L444.2,122.0 L445.7,122.1 L447.2,122.2 L448.7,122.4 L450.2,122.5 L451.8,122.6 L453.3,122.8 L454.8,122.9 L456.3,123.1 L457.8,123.2 L459.3,123.4 L460.8,123.6 L462.4,123.8 L463.9,124.0 L465.4,124.2 L466.9,124.4 L468.4,124.6 L469.9,124.8 L471.4,125.1 L473.0,125.3 L474.5,125.6 L476.0,125.8 L477.5,126.1 L479.0,126.4 L480.5,126.7 L482.0,127.0 L483.6,127.3 L485.1,127.7 L486.6,128.0 L488.1,128.4 L489.6,128.8 L491.1,129.2 L492.6,129.6 L494.2,130.1 L495.7,130.5 L497.2,131.0 L498.7,131.5 L500.2,132.1 L501.7,132.6 L503.2,133.2 L504.8,133.9 L505.7,134.3 L506.3,134.5 L507.8,135.3 L509.3,136.1 L510.8,136.9 L511.8,137.5 L512.3,137.9 L513.8,138.9 L515.4,140.1 L515.8,140.6 L516.9,141.6 L517.9,142.8 L518.4,143.5 L519.1,144.8 L519.7,146.6 L519.9,148.3 L519.9,148.3 L519.7,150.0 L519.1,151.8 L518.4,153.1 L517.9,153.8 L516.9,155.0 L515.8,156.0 L515.4,156.5 L513.8,157.7 L512.3,158.7 L511.8,159.1 L510.8,159.7 L509.3,160.5 L507.8,161.3 L506.3,162.1 L505.7,162.3 L504.8,162.7 L503.2,163.4 L501.7,164.0 L500.2,164.5 L498.7,165.1 L497.2,165.6 L495.7,166.1 L494.2,166.5 L492.6,167.0 L491.1,167.4 L489.6,167.8 L488.1,168.2 L486.6,168.6 L485.1,168.9 L483.6,169.3 L482.0,169.6 L480.5,169.9 L479.0,170.2 L477.5,170.5 L476.0,170.8 L474.5,171.0 L473.0,171.3 L471.4,171.5 L469.9,171.8 L468.4,172.0 L466.9,172.2 L465.4,172.4 L463.9,172.6 L462.4,172.8 L460.8,173.0 L459.3,173.2 L457.8,173.4 L456.3,173.5 L454.8,173.7 L453.3,173.8 L451.8,174.0 L450.2,174.1 L448.7,174.2 L447.2,174.4 L445.7,174.5 L444.2,174.6 L442.7,174.7 L441.2,174.8 L439.6,174.9 L438.1,175.0 L436.6,175.0 L435.1,175.1 L433.6,175.2 L432.1,175.3 L430.6,175.3 L429.0,175.4 L427.5,175.4 L426.0,175.5 L424.5,175.5 L423.0,175.5 L421.5,175.5 L420.0,175.6 L418.5,175.6 L416.9,175.6 L415.4,175.6 L413.9,175.6 L412.4,175.6 L410.9,175.6 L409.4,175.6 L407.9,175.6 L406.3,175.6 L404.8,175.5 L403.3,175.5 L401.8,175.5 L400.3,175.4 L398.8,175.4 L397.3,175.3 L395.7,175.3 L394.2,175.2 L392.7,175.2 L391.2,175.1 L389.7,175.0 L388.2,175.0 L386.7,174.9 L385.1,174.8 L383.6,174.7 L382.1,174.6 L380.6,174.5 L379.1,174.5 L377.6,174.3 L376.1,174.2 L374.5,174.1 L373.0,174.0 L371.5,173.9 L370.0,173.8 L368.5,173.7 L367.0,173.5 L365.5,173.4 L363.9,173.3 L362.4,173.1 L360.9,173.0 L359.4,172.8 L357.9,172.7 L356.4,172.5 L354.9,172.3 L353.3,172.2 L351.8,172.0 L350.3,171.8 L348.8,171.7 L347.3,171.5 L345.8,171.3 L344.3,171.1 L342.7,170.9 L341.2,170.7 L339.7,170.5 L338.2,170.3 L336.7,170.1 L335.2,169.9 L333.7,169.6 L332.1,169.4 L330.6,169.2 L329.1,169.0 L327.6,168.7 L326.1,168.5 L324.6,168.2 L323.1,168.0 L321.5,167.7 L320.0,167.5 L318.5,167.2 L317.0,166.9 Z" fill="#bf0000"/><path d="M317.0,130.4 L318.5,130.2 L320.0,129.9 L321.6,129.7 L323.1,129.5 L324.6,129.2 L326.1,129.0 L327.6,128.8 L329.1,128.6 L330.7,128.4 L332.2,128.2 L333.7,128.0 L335.2,127.8 L336.7,127.6 L338.2,127.4 L339.8,127.2 L341.3,127.1 L342.8,126.9 L344.3,126.7 L345.8,126.6 L347.3,126.4 L348.9,126.3 L350.4,126.1 L351.9,126.0 L353.4,125.8 L354.9,125.7 L356.4,125.6 L358.0,125.5 L359.5,125.3 L361.0,125.2 L362.5,125.1 L364.0,125.0 L365.5,124.9 L367.1,124.8 L368.6,124.7 L370.1,124.6 L371.6,124.5 L373.1,124.5 L374.6,124.4 L376.2,124.3 L377.7,124.3 L379.2,124.2 L380.7,124.1 L382.2,124.1 L383.7,124.1 L385.3,124.0 L386.8,124.0 L388.3,123.9 L389.8,123.9 L391.3,123.9 L392.8,123.9 L394.4,123.9 L395.9,123.9 L397.4,123.9 L398.9,123.9 L400.4,123.9 L401.9,123.9 L403.5,123.9 L405.0,124.0 L406.5,124.0 L408.0,124.0 L409.5,124.1 L411.0,124.1 L412.6,124.2 L414.1,124.2 L415.6,124.3 L417.1,124.4 L418.6,124.5 L420.1,124.6 L421.7,124.6 L423.2,124.7 L424.7,124.9 L426.2,125.0 L427.7,125.1 L429.2,125.2 L430.8,125.4 L432.3,125.5 L433.8,125.7 L435.3,125.8 L436.8,126.0 L438.3,126.2 L439.9,126.3 L441.4,126.5 L442.9,126.7 L444.4,127.0 L445.9,127.2 L447.4,127.4 L449.0,127.7 L450.5,127.9 L452.0,128.2 L453.5,128.5 L455.0,128.7 L456.5,129.0 L458.1,129.4 L459.6,129.7 L461.1,130.0 L462.6,130.4 L464.1,130.8 L465.6,131.2 L467.2,131.6 L468.7,132.1 L470.2,132.5 L471.7,133.0 L473.2,133.6 L474.7,134.1 L476.3,134.7 L477.8,135.3 L479.2,136.0 L479.3,136.0 L480.8,136.8 L482.3,137.6 L483.8,138.4 L484.4,138.8 L485.4,139.4 L486.9,140.6 L487.9,141.5 L488.4,142.0 L489.7,143.5 L489.9,143.8 L490.7,145.2 L491.2,146.8 L491.4,148.3 L491.4,148.3 L491.2,149.8 L490.7,151.4 L489.9,152.8 L489.7,153.1 L488.4,154.6 L487.9,155.1 L486.9,156.0 L485.4,157.2 L484.4,157.8 L483.8,158.2 L482.3,159.0 L480.8,159.8 L479.3,160.6 L479.2,160.6 L477.8,161.3 L476.3,161.9 L474.7,162.5 L473.2,163.0 L471.7,163.6 L470.2,164.1 L468.7,164.5 L467.2,165.0 L465.6,165.4 L464.1,165.8 L462.6,166.2 L461.1,166.6 L459.6,166.9 L458.1,167.2 L456.5,167.6 L455.0,167.9 L453.5,168.1 L452.0,168.4 L450.5,168.7 L449.0,168.9 L447.4,169.2 L445.9,169.4 L444.4,169.6 L442.9,169.9 L441.4,170.1 L439.9,170.3 L438.3,170.4 L436.8,170.6 L435.3,170.8 L433.8,170.9 L432.3,171.1 L430.8,171.2 L429.2,171.4 L427.7,171.5 L426.2,171.6 L424.7,171.7 L423.2,171.9 L421.7,172.0 L420.1,172.0 L418.6,172.1 L417.1,172.2 L415.6,172.3 L414.1,172.4 L412.6,172.4 L411.0,172.5 L409.5,172.5 L408.0,172.6 L406.5,172.6 L405.0,172.6 L403.5,172.7 L401.9,172.7 L400.4,172.7 L398.9,172.7 L397.4,172.7 L395.9,172.7 L394.4,172.7 L392.8,172.7 L391.3,172.7 L389.8,172.7 L388.3,172.7 L386.8,172.6 L385.3,172.6 L383.7,172.5 L382.2,172.5 L380.7,172.5 L379.2,172.4 L377.7,172.3 L376.2,172.3 L374.6,172.2 L373.1,172.1 L371.6,172.1 L370.1,172.0 L368.6,171.9 L367.1,171.8 L365.5,171.7 L364.0,171.6 L362.5,171.5 L361.0,171.4 L359.5,171.3 L358.0,171.1 L356.4,171.0 L354.9,170.9 L353.4,170.8 L351.9,170.6 L350.4,170.5 L348.9,170.3 L347.3,170.2 L345.8,170.0 L344.3,169.9 L342.8,169.7 L341.3,169.5 L339.8,169.4 L338.2,169.2 L336.7,169.0 L335.2,168.8 L333.7,168.6 L332.2,168.4 L330.7,168.2 L329.1,168.0 L327.6,167.8 L326.1,167.6 L324.6,167.4 L323.1,167.1 L321.6,166.9 L320.0,166.7 L318.5,166.4 L317.0,166.2 Z" fill="#cf0000"/><path d="M317.0,131.1 L318.5,130.8 L320.0,130.6 L321.6,130.4 L323.1,130.2 L324.6,130.0 L326.1,129.8 L327.6,129.6 L329.2,129.4 L330.7,129.2 L332.2,129.1 L333.7,128.9 L335.2,128.7 L336.7,128.5 L338.3,128.4 L339.8,128.2 L341.3,128.1 L342.8,127.9 L344.3,127.8 L345.9,127.7 L347.4,127.5 L348.9,127.4 L350.4,127.3 L351.9,127.2 L353.5,127.1 L355.0,127.0 L356.5,126.9 L358.0,126.8 L359.5,126.7 L361.0,126.6 L362.6,126.5 L364.1,126.5 L365.6,126.4 L367.1,126.3 L368.6,126.3 L370.2,126.2 L371.7,126.2 L373.2,126.1 L374.7,126.1 L376.2,126.1 L377.8,126.0 L379.3,126.0 L380.8,126.0 L382.3,126.0 L383.8,126.0 L385.3,126.0 L386.9,126.0 L388.4,126.0 L389.9,126.1 L391.4,126.1 L392.9,126.1 L394.5,126.2 L396.0,126.2 L397.5,126.2 L399.0,126.3 L400.5,126.4 L402.1,126.4 L403.6,126.5 L405.1,126.6 L406.6,126.7 L408.1,126.8 L409.6,126.9 L411.2,127.0 L412.7,127.2 L414.2,127.3 L415.7,127.4 L417.2,127.6 L418.8,127.7 L420.3,127.9 L421.8,128.1 L423.3,128.3 L424.8,128.4 L426.4,128.7 L427.9,128.9 L429.4,129.1 L430.9,129.3 L432.4,129.6 L433.9,129.8 L435.5,130.1 L437.0,130.4 L438.5,130.7 L440.0,131.0 L441.5,131.4 L443.1,131.7 L444.6,132.1 L446.1,132.5 L447.6,132.9 L449.1,133.3 L450.7,133.8 L452.2,134.3 L453.7,134.8 L455.2,135.4 L456.7,136.0 L458.2,136.6 L459.7,137.2 L459.8,137.3 L461.3,138.1 L462.8,138.9 L464.3,139.8 L464.3,139.8 L465.8,140.9 L467.3,142.2 L467.4,142.3 L468.9,144.0 L468.9,144.0 L469.8,145.6 L470.2,146.9 L470.4,148.3 L470.4,148.3 L470.2,149.7 L469.8,151.0 L468.9,152.6 L468.9,152.6 L467.4,154.3 L467.3,154.4 L465.8,155.7 L464.3,156.8 L464.3,156.8 L462.8,157.7 L461.3,158.5 L459.8,159.3 L459.7,159.4 L458.2,160.0 L456.7,160.6 L455.2,161.2 L453.7,161.8 L452.2,162.3 L450.7,162.8 L449.1,163.3 L447.6,163.7 L446.1,164.1 L444.6,164.5 L443.1,164.9 L441.5,165.2 L440.0,165.6 L438.5,165.9 L437.0,166.2 L435.5,166.5 L433.9,166.8 L432.4,167.0 L430.9,167.3 L429.4,167.5 L427.9,167.7 L426.4,167.9 L424.8,168.2 L423.3,168.3 L421.8,168.5 L420.3,168.7 L418.8,168.9 L417.2,169.0 L415.7,169.2 L414.2,169.3 L412.7,169.4 L411.2,169.6 L409.6,169.7 L408.1,169.8 L406.6,169.9 L405.1,170.0 L403.6,170.1 L402.1,170.2 L400.5,170.2 L399.0,170.3 L397.5,170.4 L396.0,170.4 L394.5,170.4 L392.9,170.5 L391.4,170.5 L389.9,170.5 L388.4,170.6 L386.9,170.6 L385.3,170.6 L383.8,170.6 L382.3,170.6 L380.8,170.6 L379.3,170.6 L377.8,170.6 L376.2,170.5 L374.7,170.5 L373.2,170.5 L371.7,170.4 L370.2,170.4 L368.6,170.3 L367.1,170.3 L365.6,170.2 L364.1,170.1 L362.6,170.1 L361.0,170.0 L359.5,169.9 L358.0,169.8 L356.5,169.7 L355.0,169.6 L353.5,169.5 L351.9,169.4 L350.4,169.3 L348.9,169.2 L347.4,169.1 L345.9,168.9 L344.3,168.8 L342.8,168.7 L341.3,168.5 L339.8,168.4 L338.3,168.2 L336.7,168.1 L335.2,167.9 L333.7,167.7 L332.2,167.5 L330.7,167.4 L329.2,167.2 L327.6,167.0 L326.1,166.8 L324.6,166.6 L323.1,166.4 L321.6,166.2 L320.0,166.0 L318.5,165.8 L317.0,165.5 Z" fill="#df0000"/><path d="M317.0,131.6 L318.5,131.4 L320.0,131.2 L321.6,131.0 L323.1,130.8 L324.6,130.7 L326.1,130.5 L327.7,130.3 L329.2,130.1 L330.7,130.0 L332.2,129.8 L333.8,129.7 L335.3,129.5 L336.8,129.4 L338.3,129.2 L339.8,129.1 L341.4,129.0 L342.9,128.9 L344.4,128.8 L345.9,128.6 L347.5,128.5 L349.0,128.4 L350.5,128.4 L352.0,128.3 L353.5,128.2 L355.1,128.1 L356.6,128.0 L358.1,128.0 L359.6,127.9 L361.2,127.9 L362.7,127.8 L364.2,127.8 L365.7,127.7 L367.3,127.7 L368.8,127.7 L370.3,127.7 L371.8,127.7 L373.3,127.7 L374.9,127.7 L376.4,127.7 L377.9,127.7 L379.4,127.7 L381.0,127.7 L382.5,127.8 L384.0,127.8 L385.5,127.8 L387.1,127.9 L388.6,128.0 L390.1,128.0 L391.6,128.1 L393.1,128.2 L394.7,128.3 L396.2,128.4 L397.7,128.5 L399.2,128.6 L400.8,128.7 L402.3,128.9 L403.8,129.0 L405.3,129.2 L406.8,129.3 L408.4,129.5 L409.9,129.7 L411.4,129.9 L412.9,130.1 L414.5,130.3 L416.0,130.5 L417.5,130.7 L419.0,131.0 L420.6,131.3 L422.1,131.5 L423.6,131.8 L425.1,132.1 L426.6,132.5 L428.2,132.8 L429.7,133.2 L431.2,133.6 L432.7,134.0 L434.3,134.4 L435.8,134.9 L437.3,135.4 L438.8,135.9 L440.3,136.5 L441.9,137.1 L443.4,137.7 L444.5,138.2 L444.9,138.5 L446.4,139.3 L448.0,140.2 L448.6,140.6 L449.5,141.2 L451.0,142.5 L451.3,142.8 L452.5,144.2 L452.7,144.4 L453.5,145.8 L453.9,147.1 L454.1,148.3 L454.1,148.3 L453.9,149.5 L453.5,150.8 L452.7,152.2 L452.5,152.4 L451.3,153.8 L451.0,154.1 L449.5,155.4 L448.6,156.0 L448.0,156.4 L446.4,157.3 L444.9,158.1 L444.5,158.4 L443.4,158.9 L441.9,159.5 L440.3,160.1 L438.8,160.7 L437.3,161.2 L435.8,161.7 L434.3,162.2 L432.7,162.6 L431.2,163.0 L429.7,163.4 L428.2,163.8 L426.6,164.1 L425.1,164.5 L423.6,164.8 L422.1,165.1 L420.6,165.3 L419.0,165.6 L417.5,165.9 L416.0,166.1 L414.5,166.3 L412.9,166.5 L411.4,166.7 L409.9,166.9 L408.4,167.1 L406.8,167.3 L405.3,167.4 L403.8,167.6 L402.3,167.7 L400.8,167.9 L399.2,168.0 L397.7,168.1 L396.2,168.2 L394.7,168.3 L393.1,168.4 L391.6,168.5 L390.1,168.6 L388.6,168.6 L387.1,168.7 L385.5,168.8 L384.0,168.8 L382.5,168.8 L381.0,168.9 L379.4,168.9 L377.9,168.9 L376.4,168.9 L374.9,168.9 L373.3,168.9 L371.8,168.9 L370.3,168.9 L368.8,168.9 L367.3,168.9 L365.7,168.9 L364.2,168.8 L362.7,168.8 L361.2,168.7 L359.6,168.7 L358.1,168.6 L356.6,168.6 L355.1,168.5 L353.5,168.4 L352.0,168.3 L350.5,168.2 L349.0,168.2 L347.5,168.1 L345.9,168.0 L344.4,167.8 L342.9,167.7 L341.4,167.6 L339.8,167.5 L338.3,167.4 L336.8,167.2 L335.3,167.1 L333.8,166.9 L332.2,166.8 L330.7,166.6 L329.2,166.5 L327.7,166.3 L326.1,166.1 L324.6,165.9 L323.1,165.8 L321.6,165.6 L320.0,165.4 L318.5,165.2 L317.0,165.0 Z" fill="#ef0000"/><path d="M317.0,132.1 L318.5,131.9 L320.1,131.8 L321.6,131.6 L323.1,131.4 L324.6,131.2 L326.2,131.1 L327.7,130.9 L329.2,130.8 L330.8,130.6 L332.3,130.5 L333.8,130.4 L335.4,130.2 L336.9,130.1 L338.4,130.0 L339.9,129.9 L341.5,129.8 L343.0,129.7 L344.5,129.6 L346.1,129.5 L347.6,129.4 L349.1,129.4 L350.6,129.3 L352.2,129.2 L353.7,129.2 L355.2,129.1 L356.8,129.1 L358.3,129.1 L359.8,129.0 L361.4,129.0 L362.9,129.0 L364.4,129.0 L365.9,129.0 L367.5,129.0 L369.0,129.0 L370.5,129.0 L372.1,129.0 L373.6,129.1 L375.1,129.1 L376.6,129.2 L378.2,129.2 L379.7,129.3 L381.2,129.4 L382.8,129.4 L384.3,129.5 L385.8,129.6 L387.4,129.7 L388.9,129.8 L390.4,129.9 L391.9,130.1 L393.5,130.2 L395.0,130.4 L396.5,130.5 L398.1,130.7 L399.6,130.9 L401.1,131.1 L402.6,131.3 L404.2,131.5 L405.7,131.7 L407.2,132.0 L408.8,132.2 L410.3,132.5 L411.8,132.8 L413.4,133.1 L414.9,133.4 L416.4,133.8 L417.9,134.1 L419.5,134.5 L421.0,134.9 L422.5,135.4 L424.1,135.8 L425.6,136.3 L427.1,136.9 L428.6,137.5 L430.2,138.1 L431.7,138.8 L432.2,139.0 L433.2,139.6 L434.8,140.4 L435.9,141.2 L436.3,141.4 L437.8,142.7 L438.4,143.2 L439.4,144.3 L439.6,144.7 L440.4,146.0 L440.8,147.2 L440.9,148.3 L440.9,148.3 L440.8,149.4 L440.4,150.6 L439.6,151.9 L439.4,152.3 L438.4,153.4 L437.8,153.9 L436.3,155.2 L435.9,155.4 L434.8,156.2 L433.2,157.0 L432.2,157.6 L431.7,157.8 L430.2,158.5 L428.6,159.1 L427.1,159.7 L425.6,160.3 L424.1,160.8 L422.5,161.2 L421.0,161.7 L419.5,162.1 L417.9,162.5 L416.4,162.8 L414.9,163.2 L413.4,163.5 L411.8,163.8 L410.3,164.1 L408.8,164.4 L407.2,164.6 L405.7,164.9 L404.2,165.1 L402.6,165.3 L401.1,165.5 L399.6,165.7 L398.1,165.9 L396.5,166.1 L395.0,166.2 L393.5,166.4 L391.9,166.5 L390.4,166.7 L388.9,166.8 L387.4,166.9 L385.8,167.0 L384.3,167.1 L382.8,167.2 L381.2,167.2 L379.7,167.3 L378.2,167.4 L376.6,167.4 L375.1,167.5 L373.6,167.5 L372.1,167.6 L370.5,167.6 L369.0,167.6 L367.5,167.6 L365.9,167.6 L364.4,167.6 L362.9,167.6 L361.4,167.6 L359.8,167.6 L358.3,167.5 L356.8,167.5 L355.2,167.5 L353.7,167.4 L352.2,167.4 L350.6,167.3 L349.1,167.2 L347.6,167.2 L346.1,167.1 L344.5,167.0 L343.0,166.9 L341.5,166.8 L339.9,166.7 L338.4,166.6 L336.9,166.5 L335.4,166.4 L333.8,166.2 L332.3,166.1 L330.8,166.0 L329.2,165.8 L327.7,165.7 L326.2,165.5 L324.6,165.4 L323.1,165.2 L321.6,165.0 L320.1,164.8 L318.5,164.7 L317.0,164.5 Z" fill="#ff0000"/><path d="M317.0,132.6 L318.5,132.4 L320.1,132.3 L321.6,132.1 L323.1,131.9 L324.6,131.8 L326.2,131.6 L327.7,131.5 L329.2,131.4 L330.7,131.3 L332.3,131.1 L333.8,131.0 L335.3,130.9 L336.8,130.8 L338.4,130.7 L339.9,130.6 L341.4,130.6 L343.0,130.5 L344.5,130.4 L346.0,130.4 L347.5,130.3 L349.1,130.2 L350.6,130.2 L352.1,130.2 L353.6,130.1 L355.2,130.1 L356.7,130.1 L358.2,130.1 L359.7,130.1 L361.3,130.1 L362.8,130.1 L364.3,130.1 L365.9,130.2 L367.4,130.2 L368.9,130.2 L370.4,130.3 L372.0,130.4 L373.5,130.4 L375.0,130.5 L376.5,130.6 L378.1,130.7 L379.6,130.8 L381.1,130.9 L382.6,131.0 L384.2,131.1 L385.7,131.3 L387.2,131.4 L388.8,131.6 L390.3,131.8 L391.8,132.0 L393.3,132.2 L394.9,132.4 L396.4,132.6 L397.9,132.8 L399.4,133.1 L401.0,133.4 L402.5,133.7 L404.0,134.0 L405.5,134.3 L407.1,134.6 L408.6,135.0 L410.1,135.4 L411.7,135.8 L413.2,136.3 L414.7,136.7 L416.2,137.2 L417.8,137.8 L419.3,138.4 L420.8,139.1 L422.1,139.7 L422.3,139.8 L423.9,140.7 L425.4,141.7 L425.5,141.7 L426.9,142.8 L427.7,143.6 L428.4,144.4 L428.8,145.0 L429.5,146.2 L429.9,147.2 L430.0,148.3 L430.0,148.3 L429.9,149.4 L429.5,150.4 L428.8,151.6 L428.4,152.2 L427.7,153.0 L426.9,153.8 L425.5,154.9 L425.4,154.9 L423.9,155.9 L422.3,156.8 L422.1,156.9 L420.8,157.5 L419.3,158.2 L417.8,158.8 L416.2,159.4 L414.7,159.9 L413.2,160.3 L411.7,160.8 L410.1,161.2 L408.6,161.6 L407.1,162.0 L405.5,162.3 L404.0,162.6 L402.5,162.9 L401.0,163.2 L399.4,163.5 L397.9,163.8 L396.4,164.0 L394.9,164.2 L393.3,164.4 L391.8,164.6 L390.3,164.8 L388.8,165.0 L387.2,165.2 L385.7,165.3 L384.2,165.5 L382.6,165.6 L381.1,165.7 L379.6,165.8 L378.1,165.9 L376.5,166.0 L375.0,166.1 L373.5,166.2 L372.0,166.2 L370.4,166.3 L368.9,166.4 L367.4,166.4 L365.9,166.4 L364.3,166.5 L362.8,166.5 L361.3,166.5 L359.7,166.5 L358.2,166.5 L356.7,166.5 L355.2,166.5 L353.6,166.5 L352.1,166.4 L350.6,166.4 L349.1,166.4 L347.5,166.3 L346.0,166.2 L344.5,166.2 L343.0,166.1 L341.4,166.0 L339.9,166.0 L338.4,165.9 L336.8,165.8 L335.3,165.7 L333.8,165.6 L332.3,165.5 L330.7,165.3 L329.2,165.2 L327.7,165.1 L326.2,165.0 L324.6,164.8 L323.1,164.7 L321.6,164.5 L320.1,164.3 L318.5,164.2 L317.0,164.0 Z" fill="#ff1000"/><path d="M317.0,133.0 L318.5,132.9 L320.1,132.7 L321.6,132.6 L323.1,132.4 L324.6,132.3 L326.2,132.2 L327.7,132.0 L329.2,131.9 L330.7,131.8 L332.3,131.7 L333.8,131.6 L335.3,131.5 L336.8,131.5 L338.4,131.4 L339.9,131.3 L341.4,131.3 L342.9,131.2 L344.5,131.2 L346.0,131.1 L347.5,131.1 L349.0,131.1 L350.6,131.0 L352.1,131.0 L353.6,131.0 L355.1,131.0 L356.7,131.0 L358.2,131.1 L359.7,131.1 L361.2,131.1 L362.8,131.2 L364.3,131.2 L365.8,131.3 L367.3,131.3 L368.9,131.4 L370.4,131.5 L371.9,131.6 L373.4,131.7 L375.0,131.8 L376.5,132.0 L378.0,132.1 L379.6,132.2 L381.1,132.4 L382.6,132.6 L384.1,132.8 L385.7,133.0 L387.2,133.2 L388.7,133.4 L390.2,133.6 L391.8,133.9 L393.3,134.1 L394.8,134.4 L396.3,134.7 L397.9,135.1 L399.4,135.4 L400.9,135.8 L402.4,136.2 L404.0,136.6 L405.5,137.1 L407.0,137.6 L408.5,138.1 L410.1,138.7 L411.6,139.4 L413.1,140.1 L413.5,140.3 L414.6,140.9 L416.2,141.8 L416.6,142.1 L417.7,143.0 L418.7,143.9 L419.2,144.5 L419.7,145.2 L420.3,146.3 L420.6,147.3 L420.7,148.3 L420.7,148.3 L420.6,149.3 L420.3,150.3 L419.7,151.4 L419.2,152.1 L418.7,152.7 L417.7,153.6 L416.6,154.5 L416.2,154.8 L414.6,155.7 L413.5,156.3 L413.1,156.5 L411.6,157.2 L410.1,157.9 L408.5,158.5 L407.0,159.0 L405.5,159.5 L404.0,160.0 L402.4,160.4 L400.9,160.8 L399.4,161.2 L397.9,161.5 L396.3,161.9 L394.8,162.2 L393.3,162.5 L391.8,162.7 L390.2,163.0 L388.7,163.2 L387.2,163.4 L385.7,163.6 L384.1,163.8 L382.6,164.0 L381.1,164.2 L379.6,164.4 L378.0,164.5 L376.5,164.6 L375.0,164.8 L373.4,164.9 L371.9,165.0 L370.4,165.1 L368.9,165.2 L367.3,165.3 L365.8,165.3 L364.3,165.4 L362.8,165.4 L361.2,165.5 L359.7,165.5 L358.2,165.5 L356.7,165.6 L355.1,165.6 L353.6,165.6 L352.1,165.6 L350.6,165.6 L349.0,165.5 L347.5,165.5 L346.0,165.5 L344.5,165.4 L342.9,165.4 L341.4,165.3 L339.9,165.3 L338.4,165.2 L336.8,165.1 L335.3,165.1 L333.8,165.0 L332.3,164.9 L330.7,164.8 L329.2,164.7 L327.7,164.6 L326.2,164.4 L324.6,164.3 L323.1,164.2 L321.6,164.0 L320.1,163.9 L318.5,163.7 L317.0,163.6 Z" fill="#ff2000"/><path d="M317.0,133.4 L318.5,133.3 L320.1,133.1 L321.6,133.0 L323.2,132.9 L324.7,132.8 L326.3,132.6 L327.8,132.5 L329.4,132.4 L330.9,132.3 L332.5,132.3 L334.0,132.2 L335.5,132.1 L337.1,132.1 L338.6,132.0 L340.2,132.0 L341.7,131.9 L343.3,131.9 L344.8,131.9 L346.4,131.8 L347.9,131.8 L349.4,131.8 L351.0,131.8 L352.5,131.9 L354.1,131.9 L355.6,131.9 L357.2,132.0 L358.7,132.0 L360.3,132.1 L361.8,132.1 L363.4,132.2 L364.9,132.3 L366.4,132.4 L368.0,132.5 L369.5,132.6 L371.1,132.8 L372.6,132.9 L374.2,133.1 L375.7,133.2 L377.3,133.4 L378.8,133.6 L380.4,133.8 L381.9,134.0 L383.4,134.3 L385.0,134.5 L386.5,134.8 L388.1,135.1 L389.6,135.4 L391.2,135.7 L392.7,136.1 L394.3,136.5 L395.8,136.9 L397.4,137.3 L398.9,137.8 L400.4,138.3 L402.0,138.9 L403.5,139.5 L405.1,140.2 L406.1,140.7 L406.6,141.0 L408.2,142.0 L409.0,142.5 L409.7,143.1 L410.9,144.2 L411.3,144.6 L411.8,145.4 L412.4,146.4 L412.7,147.4 L412.8,148.3 L412.8,148.3 L412.7,149.2 L412.4,150.2 L411.8,151.2 L411.3,152.0 L410.9,152.4 L409.7,153.5 L409.0,154.1 L408.2,154.6 L406.6,155.6 L406.1,155.9 L405.1,156.4 L403.5,157.1 L402.0,157.7 L400.4,158.3 L398.9,158.8 L397.4,159.3 L395.8,159.7 L394.3,160.1 L392.7,160.5 L391.2,160.9 L389.6,161.2 L388.1,161.5 L386.5,161.8 L385.0,162.1 L383.4,162.3 L381.9,162.6 L380.4,162.8 L378.8,163.0 L377.3,163.2 L375.7,163.4 L374.2,163.5 L372.6,163.7 L371.1,163.8 L369.5,164.0 L368.0,164.1 L366.4,164.2 L364.9,164.3 L363.4,164.4 L361.8,164.5 L360.3,164.5 L358.7,164.6 L357.2,164.6 L355.6,164.7 L354.1,164.7 L352.5,164.7 L351.0,164.8 L349.4,164.8 L347.9,164.8 L346.4,164.8 L344.8,164.7 L343.3,164.7 L341.7,164.7 L340.2,164.6 L338.6,164.6 L337.1,164.5 L335.5,164.5 L334.0,164.4 L332.5,164.3 L330.9,164.3 L329.4,164.2 L327.8,164.1 L326.3,164.0 L324.7,163.8 L323.2,163.7 L321.6,163.6 L320.1,163.5 L318.5,163.3 L317.0,163.2 Z" fill="#ff3000"/><path d="M317.0,133.8 L318.5,133.7 L320.1,133.5 L321.6,133.4 L323.1,133.3 L324.7,133.2 L326.2,133.1 L327.7,133.0 L329.3,132.9 L330.8,132.9 L332.3,132.8 L333.9,132.7 L335.4,132.7 L336.9,132.6 L338.5,132.6 L340.0,132.6 L341.5,132.5 L343.1,132.5 L344.6,132.5 L346.1,132.5 L347.6,132.5 L349.2,132.6 L350.7,132.6 L352.2,132.6 L353.8,132.7 L355.3,132.7 L356.8,132.8 L358.4,132.9 L359.9,133.0 L361.4,133.1 L363.0,133.2 L364.5,133.3 L366.0,133.4 L367.6,133.6 L369.1,133.7 L370.6,133.9 L372.2,134.1 L373.7,134.3 L375.2,134.5 L376.8,134.7 L378.3,134.9 L379.8,135.2 L381.4,135.5 L382.9,135.8 L384.4,136.1 L386.0,136.4 L387.5,136.8 L389.0,137.2 L390.6,137.6 L392.1,138.1 L393.6,138.6 L395.2,139.2 L396.7,139.8 L398.2,140.4 L399.7,141.2 L399.7,141.2 L401.3,142.1 L402.3,142.8 L402.8,143.2 L404.1,144.4 L404.3,144.7 L405.0,145.5 L405.5,146.5 L405.8,147.4 L405.9,148.3 L405.9,148.3 L405.8,149.2 L405.5,150.1 L405.0,151.1 L404.3,151.9 L404.1,152.2 L402.8,153.4 L402.3,153.8 L401.3,154.5 L399.7,155.4 L399.7,155.4 L398.2,156.2 L396.7,156.8 L395.2,157.4 L393.6,158.0 L392.1,158.5 L390.6,159.0 L389.0,159.4 L387.5,159.8 L386.0,160.2 L384.4,160.5 L382.9,160.8 L381.4,161.1 L379.8,161.4 L378.3,161.7 L376.8,161.9 L375.2,162.1 L373.7,162.3 L372.2,162.5 L370.6,162.7 L369.1,162.9 L367.6,163.0 L366.0,163.2 L364.5,163.3 L363.0,163.4 L361.4,163.5 L359.9,163.6 L358.4,163.7 L356.8,163.8 L355.3,163.9 L353.8,163.9 L352.2,164.0 L350.7,164.0 L349.2,164.0 L347.6,164.1 L346.1,164.1 L344.6,164.1 L343.1,164.1 L341.5,164.1 L340.0,164.0 L338.5,164.0 L336.9,164.0 L335.4,163.9 L333.9,163.9 L332.3,163.8 L330.8,163.7 L329.3,163.7 L327.7,163.6 L326.2,163.5 L324.7,163.4 L323.1,163.3 L321.6,163.2 L320.1,163.1 L318.5,162.9 L317.0,162.8 Z" fill="#ff4000"/><path d="M317.0,134.1 L318.5,134.0 L320.1,133.9 L321.6,133.8 L323.1,133.7 L324.7,133.6 L326.2,133.5 L327.7,133.5 L329.3,133.4 L330.8,133.3 L332.3,133.3 L333.9,133.2 L335.4,133.2 L336.9,133.2 L338.5,133.2 L340.0,133.2 L341.5,133.2 L343.1,133.2 L344.6,133.2 L346.1,133.2 L347.7,133.2 L349.2,133.3 L350.7,133.3 L352.3,133.4 L353.8,133.5 L355.3,133.6 L356.9,133.7 L358.4,133.8 L359.9,133.9 L361.4,134.0 L363.0,134.2 L364.5,134.3 L366.0,134.5 L367.6,134.7 L369.1,134.9 L370.6,135.1 L372.2,135.3 L373.7,135.5 L375.2,135.8 L376.8,136.1 L378.3,136.4 L379.8,136.7 L381.4,137.1 L382.9,137.5 L384.4,137.9 L386.0,138.3 L387.5,138.8 L389.0,139.4 L390.6,140.0 L392.1,140.6 L393.6,141.4 L394.0,141.6 L395.2,142.3 L396.5,143.1 L396.7,143.3 L398.1,144.6 L398.2,144.8 L398.9,145.7 L399.4,146.6 L399.7,147.5 L399.8,148.3 L399.8,148.3 L399.7,149.1 L399.4,150.0 L398.9,150.9 L398.2,151.8 L398.1,152.0 L396.7,153.3 L396.5,153.5 L395.2,154.3 L394.0,155.0 L393.6,155.2 L392.1,156.0 L390.6,156.6 L389.0,157.2 L387.5,157.8 L386.0,158.3 L384.4,158.7 L382.9,159.1 L381.4,159.5 L379.8,159.9 L378.3,160.2 L376.8,160.5 L375.2,160.8 L373.7,161.1 L372.2,161.3 L370.6,161.5 L369.1,161.7 L367.6,161.9 L366.0,162.1 L364.5,162.3 L363.0,162.4 L361.4,162.6 L359.9,162.7 L358.4,162.8 L356.9,162.9 L355.3,163.0 L353.8,163.1 L352.3,163.2 L350.7,163.3 L349.2,163.3 L347.7,163.4 L346.1,163.4 L344.6,163.4 L343.1,163.4 L341.5,163.4 L340.0,163.4 L338.5,163.4 L336.9,163.4 L335.4,163.4 L333.9,163.4 L332.3,163.3 L330.8,163.3 L329.3,163.2 L327.7,163.1 L326.2,163.1 L324.7,163.0 L323.1,162.9 L321.6,162.8 L320.1,162.7 L318.5,162.6 L317.0,162.5 Z" fill="#ff5000"/><path d="M317.0,134.5 L318.5,134.4 L320.1,134.3 L321.6,134.2 L323.2,134.1 L324.7,134.0 L326.3,133.9 L327.8,133.9 L329.4,133.8 L330.9,133.8 L332.5,133.8 L334.0,133.7 L335.6,133.7 L337.1,133.7 L338.7,133.7 L340.2,133.7 L341.7,133.7 L343.3,133.8 L344.8,133.8 L346.4,133.9 L347.9,133.9 L349.5,134.0 L351.0,134.1 L352.6,134.2 L354.1,134.3 L355.7,134.4 L357.2,134.5 L358.8,134.7 L360.3,134.8 L361.8,135.0 L363.4,135.2 L364.9,135.4 L366.5,135.6 L368.0,135.8 L369.6,136.1 L371.1,136.3 L372.7,136.6 L374.2,137.0 L375.8,137.3 L377.3,137.7 L378.9,138.1 L380.4,138.5 L382.0,139.0 L383.5,139.5 L385.0,140.1 L386.6,140.7 L388.1,141.5 L388.9,141.9 L389.7,142.3 L391.2,143.4 L391.2,143.4 L392.8,144.8 L392.8,144.8 L393.5,145.8 L394.0,146.7 L394.2,147.5 L394.3,148.3 L394.3,148.3 L394.2,149.1 L394.0,149.9 L393.5,150.8 L392.8,151.8 L392.8,151.8 L391.2,153.2 L391.2,153.2 L389.7,154.3 L388.9,154.7 L388.1,155.1 L386.6,155.9 L385.0,156.5 L383.5,157.1 L382.0,157.6 L380.4,158.1 L378.9,158.5 L377.3,158.9 L375.8,159.3 L374.2,159.6 L372.7,160.0 L371.1,160.3 L369.6,160.5 L368.0,160.8 L366.5,161.0 L364.9,161.2 L363.4,161.4 L361.8,161.6 L360.3,161.8 L358.8,161.9 L357.2,162.1 L355.7,162.2 L354.1,162.3 L352.6,162.4 L351.0,162.5 L349.5,162.6 L347.9,162.7 L346.4,162.7 L344.8,162.8 L343.3,162.8 L341.7,162.9 L340.2,162.9 L338.7,162.9 L337.1,162.9 L335.6,162.9 L334.0,162.9 L332.5,162.8 L330.9,162.8 L329.4,162.8 L327.8,162.7 L326.3,162.7 L324.7,162.6 L323.2,162.5 L321.6,162.4 L320.1,162.3 L318.5,162.2 L317.0,162.1 Z" fill="#ff6000"/><path d="M317.0,134.8 L318.5,134.7 L320.1,134.6 L321.6,134.5 L323.2,134.4 L324.7,134.4 L326.2,134.3 L327.8,134.3 L329.3,134.3 L330.9,134.2 L332.4,134.2 L334.0,134.2 L335.5,134.2 L337.0,134.2 L338.6,134.2 L340.1,134.3 L341.7,134.3 L343.2,134.3 L344.7,134.4 L346.3,134.5 L347.8,134.6 L349.4,134.7 L350.9,134.8 L352.4,134.9 L354.0,135.0 L355.5,135.2 L357.1,135.3 L358.6,135.5 L360.2,135.7 L361.7,135.9 L363.2,136.1 L364.8,136.4 L366.3,136.6 L367.9,136.9 L369.4,137.2 L370.9,137.5 L372.5,137.9 L374.0,138.3 L375.6,138.7 L377.1,139.2 L378.6,139.7 L380.2,140.3 L381.7,140.9 L383.3,141.6 L384.4,142.2 L384.8,142.5 L386.4,143.5 L386.5,143.6 L387.9,144.9 L388.0,145.0 L388.7,145.9 L389.1,146.8 L389.4,147.6 L389.4,148.3 L389.4,148.3 L389.4,149.0 L389.1,149.8 L388.7,150.7 L388.0,151.6 L387.9,151.7 L386.5,153.0 L386.4,153.1 L384.8,154.1 L384.4,154.4 L383.3,155.0 L381.7,155.7 L380.2,156.3 L378.6,156.9 L377.1,157.4 L375.6,157.9 L374.0,158.3 L372.5,158.7 L370.9,159.1 L369.4,159.4 L367.9,159.7 L366.3,160.0 L364.8,160.2 L363.2,160.5 L361.7,160.7 L360.2,160.9 L358.6,161.1 L357.1,161.3 L355.5,161.4 L354.0,161.6 L352.4,161.7 L350.9,161.8 L349.4,161.9 L347.8,162.0 L346.3,162.1 L344.7,162.2 L343.2,162.3 L341.7,162.3 L340.1,162.3 L338.6,162.4 L337.0,162.4 L335.5,162.4 L334.0,162.4 L332.4,162.4 L330.9,162.4 L329.3,162.3 L327.8,162.3 L326.2,162.3 L324.7,162.2 L323.2,162.2 L321.6,162.1 L320.1,162.0 L318.5,161.9 L317.0,161.8 Z" fill="#ff7000"/><path d="M317.0,135.1 L318.5,135.0 L320.1,134.9 L321.6,134.9 L323.2,134.8 L324.7,134.7 L326.3,134.7 L327.8,134.7 L329.4,134.7 L330.9,134.6 L332.5,134.6 L334.0,134.7 L335.5,134.7 L337.1,134.7 L338.6,134.7 L340.2,134.8 L341.7,134.9 L343.3,134.9 L344.8,135.0 L346.4,135.1 L347.9,135.2 L349.5,135.3 L351.0,135.5 L352.6,135.6 L354.1,135.8 L355.6,136.0 L357.2,136.2 L358.7,136.4 L360.3,136.6 L361.8,136.9 L363.4,137.1 L364.9,137.4 L366.5,137.7 L368.0,138.1 L369.6,138.5 L371.1,138.9 L372.6,139.3 L374.2,139.8 L375.7,140.4 L377.3,141.0 L378.8,141.7 L380.2,142.5 L380.4,142.6 L381.9,143.6 L382.3,143.8 L383.5,144.9 L383.6,145.1 L384.3,146.0 L384.7,146.9 L384.9,147.6 L385.0,148.3 L385.0,148.3 L384.9,149.0 L384.7,149.7 L384.3,150.6 L383.6,151.5 L383.5,151.7 L382.3,152.8 L381.9,153.0 L380.4,154.0 L380.2,154.1 L378.8,154.9 L377.3,155.6 L375.7,156.2 L374.2,156.8 L372.6,157.3 L371.1,157.7 L369.6,158.1 L368.0,158.5 L366.5,158.9 L364.9,159.2 L363.4,159.5 L361.8,159.7 L360.3,160.0 L358.7,160.2 L357.2,160.4 L355.6,160.6 L354.1,160.8 L352.6,161.0 L351.0,161.1 L349.5,161.3 L347.9,161.4 L346.4,161.5 L344.8,161.6 L343.3,161.7 L341.7,161.7 L340.2,161.8 L338.6,161.9 L337.1,161.9 L335.5,161.9 L334.0,161.9 L332.5,162.0 L330.9,162.0 L329.4,161.9 L327.8,161.9 L326.3,161.9 L324.7,161.9 L323.2,161.8 L321.6,161.7 L320.1,161.7 L318.5,161.6 L317.0,161.5 Z" fill="#ff8000"/><path d="M317.0,135.4 L318.6,135.3 L320.1,135.2 L321.7,135.2 L323.2,135.1 L324.8,135.1 L326.4,135.1 L327.9,135.1 L329.5,135.1 L331.0,135.1 L332.6,135.1 L334.2,135.1 L335.7,135.1 L337.3,135.2 L338.8,135.2 L340.4,135.3 L342.0,135.4 L343.5,135.5 L345.1,135.6 L346.7,135.7 L348.2,135.9 L349.8,136.0 L351.3,136.2 L352.9,136.4 L354.5,136.6 L356.0,136.8 L357.6,137.0 L359.1,137.3 L360.7,137.6 L362.3,137.9 L363.8,138.2 L365.4,138.6 L366.9,139.0 L368.5,139.5 L370.1,139.9 L371.6,140.5 L373.2,141.1 L374.7,141.8 L376.3,142.6 L376.5,142.7 L377.9,143.6 L378.4,144.0 L379.4,145.0 L379.7,145.3 L380.3,146.1 L380.7,146.9 L380.9,147.6 L381.0,148.3 L381.0,148.3 L380.9,149.0 L380.7,149.7 L380.3,150.5 L379.7,151.3 L379.4,151.6 L378.4,152.6 L377.9,153.0 L376.5,153.9 L376.3,154.0 L374.7,154.8 L373.2,155.5 L371.6,156.1 L370.1,156.7 L368.5,157.1 L366.9,157.6 L365.4,158.0 L363.8,158.4 L362.3,158.7 L360.7,159.0 L359.1,159.3 L357.6,159.6 L356.0,159.8 L354.5,160.0 L352.9,160.2 L351.3,160.4 L349.8,160.6 L348.2,160.7 L346.7,160.9 L345.1,161.0 L343.5,161.1 L342.0,161.2 L340.4,161.3 L338.8,161.4 L337.3,161.4 L335.7,161.5 L334.2,161.5 L332.6,161.5 L331.0,161.5 L329.5,161.5 L327.9,161.5 L326.4,161.5 L324.8,161.5 L323.2,161.5 L321.7,161.4 L320.1,161.4 L318.6,161.3 L317.0,161.2 Z" fill="#ff8f00"/><path d="M317.0,135.6 L318.5,135.6 L320.1,135.5 L321.6,135.5 L323.2,135.5 L324.7,135.4 L326.3,135.4 L327.8,135.4 L329.4,135.4 L330.9,135.5 L332.5,135.5 L334.0,135.5 L335.6,135.6 L337.1,135.6 L338.6,135.7 L340.2,135.8 L341.7,135.9 L343.3,136.0 L344.8,136.2 L346.4,136.3 L347.9,136.5 L349.5,136.6 L351.0,136.8 L352.6,137.1 L354.1,137.3 L355.7,137.5 L357.2,137.8 L358.7,138.1 L360.3,138.4 L361.8,138.8 L363.4,139.2 L364.9,139.6 L366.5,140.1 L368.0,140.6 L369.6,141.2 L371.1,141.9 L372.7,142.7 L373.1,143.0 L374.2,143.7 L374.9,144.2 L375.7,145.0 L376.1,145.4 L376.7,146.2 L377.1,147.0 L377.2,147.6 L377.3,148.3 L377.3,148.3 L377.2,149.0 L377.1,149.6 L376.7,150.4 L376.1,151.2 L375.7,151.6 L374.9,152.4 L374.2,152.9 L373.1,153.6 L372.7,153.9 L371.1,154.7 L369.6,155.4 L368.0,156.0 L366.5,156.5 L364.9,157.0 L363.4,157.4 L361.8,157.8 L360.3,158.2 L358.7,158.5 L357.2,158.8 L355.7,159.1 L354.1,159.3 L352.6,159.5 L351.0,159.8 L349.5,160.0 L347.9,160.1 L346.4,160.3 L344.8,160.4 L343.3,160.6 L341.7,160.7 L340.2,160.8 L338.6,160.9 L337.1,161.0 L335.6,161.0 L334.0,161.1 L332.5,161.1 L330.9,161.1 L329.4,161.2 L327.8,161.2 L326.3,161.2 L324.7,161.2 L323.2,161.1 L321.6,161.1 L320.1,161.1 L318.5,161.0 L317.0,161.0 Z" fill="#ff9f00"/><path d="M317.0,135.9 L318.6,135.9 L320.2,135.8 L321.7,135.8 L323.3,135.8 L324.9,135.8 L326.5,135.8 L328.1,135.8 L329.6,135.8 L331.2,135.9 L332.8,135.9 L334.4,136.0 L336.0,136.0 L337.5,136.1 L339.1,136.2 L340.7,136.4 L342.3,136.5 L343.9,136.6 L345.5,136.8 L347.0,137.0 L348.6,137.2 L350.2,137.4 L351.8,137.7 L353.4,137.9 L354.9,138.2 L356.5,138.5 L358.1,138.9 L359.7,139.3 L361.3,139.7 L362.8,140.2 L364.4,140.7 L366.0,141.3 L367.6,142.0 L369.2,142.7 L369.9,143.2 L370.7,143.7 L371.6,144.4 L372.3,145.0 L372.8,145.5 L373.3,146.3 L373.7,147.0 L373.8,147.7 L373.9,148.3 L373.9,148.3 L373.8,148.9 L373.7,149.6 L373.3,150.3 L372.8,151.1 L372.3,151.6 L371.6,152.2 L370.7,152.9 L369.9,153.4 L369.2,153.9 L367.6,154.6 L366.0,155.3 L364.4,155.9 L362.8,156.4 L361.3,156.9 L359.7,157.3 L358.1,157.7 L356.5,158.1 L354.9,158.4 L353.4,158.7 L351.8,158.9 L350.2,159.2 L348.6,159.4 L347.0,159.6 L345.5,159.8 L343.9,160.0 L342.3,160.1 L340.7,160.2 L339.1,160.4 L337.5,160.5 L336.0,160.6 L334.4,160.6 L332.8,160.7 L331.2,160.7 L329.6,160.8 L328.1,160.8 L326.5,160.8 L324.9,160.8 L323.3,160.8 L321.7,160.8 L320.2,160.8 L318.6,160.7 L317.0,160.7 Z" fill="#ffaf00"/><path d="M317.0,136.2 L318.6,136.1 L320.2,136.1 L321.7,136.1 L323.3,136.1 L324.9,136.1 L326.5,136.1 L328.1,136.1 L329.7,136.2 L331.2,136.2 L332.8,136.3 L334.4,136.4 L336.0,136.5 L337.6,136.6 L339.1,136.7 L340.7,136.9 L342.3,137.0 L343.9,137.2 L345.5,137.4 L347.0,137.6 L348.6,137.8 L350.2,138.1 L351.8,138.4 L353.4,138.7 L355.0,139.0 L356.5,139.4 L358.1,139.8 L359.7,140.3 L361.3,140.8 L362.9,141.4 L364.4,142.0 L366.0,142.8 L367.0,143.4 L367.6,143.8 L368.6,144.5 L369.2,145.1 L369.7,145.6 L370.2,146.4 L370.6,147.1 L370.7,147.7 L370.8,148.3 L370.8,148.3 L370.7,148.9 L370.6,149.5 L370.2,150.2 L369.7,151.0 L369.2,151.5 L368.6,152.1 L367.6,152.8 L367.0,153.2 L366.0,153.8 L364.4,154.6 L362.9,155.2 L361.3,155.8 L359.7,156.3 L358.1,156.8 L356.5,157.2 L355.0,157.6 L353.4,157.9 L351.8,158.2 L350.2,158.5 L348.6,158.8 L347.0,159.0 L345.5,159.2 L343.9,159.4 L342.3,159.6 L340.7,159.7 L339.1,159.9 L337.6,160.0 L336.0,160.1 L334.4,160.2 L332.8,160.3 L331.2,160.4 L329.7,160.4 L328.1,160.5 L326.5,160.5 L324.9,160.5 L323.3,160.5 L321.7,160.5 L320.2,160.5 L318.6,160.5 L317.0,160.4 Z" fill="#ffbf00"/><path d="M317.0,136.4 L318.6,136.4 L320.2,136.4 L321.8,136.4 L323.4,136.4 L324.9,136.4 L326.5,136.4 L328.1,136.5 L329.7,136.5 L331.3,136.6 L332.9,136.7 L334.5,136.8 L336.1,136.9 L337.7,137.1 L339.3,137.2 L340.8,137.4 L342.4,137.6 L344.0,137.8 L345.6,138.0 L347.2,138.2 L348.8,138.5 L350.4,138.8 L352.0,139.1 L353.6,139.5 L355.1,139.9 L356.7,140.4 L358.3,140.9 L359.9,141.4 L361.5,142.1 L363.1,142.9 L364.3,143.6 L364.7,143.8 L365.8,144.7 L366.3,145.1 L366.8,145.7 L367.4,146.5 L367.7,147.1 L367.8,147.7 L367.9,148.3 L367.9,148.3 L367.8,148.9 L367.7,149.5 L367.4,150.1 L366.8,150.9 L366.3,151.5 L365.8,151.9 L364.7,152.8 L364.3,153.0 L363.1,153.7 L361.5,154.5 L359.9,155.2 L358.3,155.7 L356.7,156.2 L355.1,156.7 L353.6,157.1 L352.0,157.5 L350.4,157.8 L348.8,158.1 L347.2,158.4 L345.6,158.6 L344.0,158.8 L342.4,159.0 L340.8,159.2 L339.3,159.4 L337.7,159.5 L336.1,159.7 L334.5,159.8 L332.9,159.9 L331.3,160.0 L329.7,160.1 L328.1,160.1 L326.5,160.2 L324.9,160.2 L323.4,160.2 L321.8,160.2 L320.2,160.2 L318.6,160.2 L317.0,160.2 Z" fill="#ffcf00"/><path d="M317.0,136.7 L318.6,136.7 L320.1,136.7 L321.7,136.7 L323.2,136.7 L324.8,136.7 L326.3,136.8 L327.9,136.8 L329.4,136.9 L331.0,137.0 L332.5,137.1 L334.1,137.2 L335.6,137.3 L337.2,137.5 L338.7,137.6 L340.3,137.8 L341.9,138.0 L343.4,138.2 L345.0,138.5 L346.5,138.7 L348.1,139.0 L349.6,139.4 L351.2,139.7 L352.7,140.1 L354.3,140.6 L355.8,141.0 L357.4,141.6 L358.9,142.2 L360.5,143.0 L361.8,143.8 L362.0,143.9 L363.2,144.8 L363.6,145.2 L364.2,145.8 L364.7,146.5 L365.0,147.2 L365.1,147.7 L365.2,148.3 L365.2,148.3 L365.1,148.9 L365.0,149.4 L364.7,150.1 L364.2,150.8 L363.6,151.4 L363.2,151.8 L362.0,152.7 L361.8,152.8 L360.5,153.6 L358.9,154.4 L357.4,155.0 L355.8,155.6 L354.3,156.0 L352.7,156.5 L351.2,156.9 L349.6,157.2 L348.1,157.6 L346.5,157.9 L345.0,158.1 L343.4,158.4 L341.9,158.6 L340.3,158.8 L338.7,159.0 L337.2,159.1 L335.6,159.3 L334.1,159.4 L332.5,159.5 L331.0,159.6 L329.4,159.7 L327.9,159.8 L326.3,159.8 L324.8,159.9 L323.2,159.9 L321.7,159.9 L320.1,159.9 L318.6,159.9 L317.0,159.9 Z" fill="#ffdf00"/><path d="M317.0,136.9 L318.6,136.9 L320.1,136.9 L321.7,136.9 L323.3,137.0 L324.9,137.0 L326.4,137.1 L328.0,137.2 L329.6,137.2 L331.2,137.3 L332.7,137.5 L334.3,137.6 L335.9,137.8 L337.5,137.9 L339.0,138.1 L340.6,138.3 L342.2,138.6 L343.7,138.8 L345.3,139.1 L346.9,139.4 L348.5,139.8 L350.0,140.2 L351.6,140.6 L353.2,141.1 L354.8,141.7 L356.3,142.3 L357.9,143.0 L359.4,143.9 L359.5,144.0 L360.8,145.0 L361.1,145.2 L361.7,145.9 L362.2,146.6 L362.4,147.2 L362.6,147.8 L362.6,148.3 L362.6,148.3 L362.6,148.8 L362.4,149.4 L362.2,150.0 L361.7,150.7 L361.1,151.4 L360.8,151.6 L359.5,152.6 L359.4,152.7 L357.9,153.6 L356.3,154.3 L354.8,154.9 L353.2,155.5 L351.6,156.0 L350.0,156.4 L348.5,156.8 L346.9,157.2 L345.3,157.5 L343.7,157.8 L342.2,158.0 L340.6,158.3 L339.0,158.5 L337.5,158.7 L335.9,158.8 L334.3,159.0 L332.7,159.1 L331.2,159.3 L329.6,159.4 L328.0,159.4 L326.4,159.5 L324.9,159.6 L323.3,159.6 L321.7,159.7 L320.1,159.7 L318.6,159.7 L317.0,159.7 Z" fill="#ffef00"/><path d="M317.0,137.2 L318.6,137.2 L320.2,137.2 L321.8,137.2 L323.4,137.3 L325.0,137.3 L326.6,137.4 L328.2,137.5 L329.8,137.6 L331.4,137.7 L333.0,137.9 L334.6,138.0 L336.2,138.2 L337.8,138.4 L339.4,138.6 L341.0,138.9 L342.6,139.2 L344.2,139.5 L345.8,139.8 L347.4,140.2 L349.0,140.6 L350.6,141.1 L352.2,141.7 L353.8,142.3 L355.4,143.0 L357.1,144.0 L357.2,144.1 L358.5,145.1 L358.7,145.2 L359.4,146.0 L359.8,146.7 L360.1,147.3 L360.2,147.8 L360.3,148.3 L360.3,148.3 L360.2,148.8 L360.1,149.3 L359.8,149.9 L359.4,150.6 L358.7,151.4 L358.5,151.5 L357.2,152.5 L357.1,152.6 L355.4,153.6 L353.8,154.3 L352.2,154.9 L350.6,155.5 L349.0,156.0 L347.4,156.4 L345.8,156.8 L344.2,157.1 L342.6,157.4 L341.0,157.7 L339.4,158.0 L337.8,158.2 L336.2,158.4 L334.6,158.6 L333.0,158.7 L331.4,158.9 L329.8,159.0 L328.2,159.1 L326.6,159.2 L325.0,159.3 L323.4,159.3 L321.8,159.4 L320.2,159.4 L318.6,159.4 L317.0,159.4 Z" fill="#ffff00"/><path d="M317.0,137.4 L318.6,137.4 L320.2,137.4 L321.7,137.5 L323.3,137.5 L324.9,137.6 L326.5,137.7 L328.0,137.8 L329.6,137.9 L331.2,138.1 L332.8,138.2 L334.4,138.4 L335.9,138.6 L337.5,138.8 L339.1,139.1 L340.7,139.3 L342.2,139.7 L343.8,140.0 L345.4,140.4 L347.0,140.8 L348.6,141.3 L350.1,141.8 L351.7,142.4 L353.3,143.1 L354.9,144.0 L355.2,144.2 L356.4,145.2 L356.5,145.3 L357.2,146.1 L357.6,146.7 L357.9,147.3 L358.0,147.8 L358.0,148.3 L358.0,148.3 L358.0,148.8 L357.9,149.3 L357.6,149.9 L357.2,150.5 L356.5,151.3 L356.4,151.4 L355.2,152.4 L354.9,152.6 L353.3,153.5 L351.7,154.2 L350.1,154.8 L348.6,155.3 L347.0,155.8 L345.4,156.2 L343.8,156.6 L342.2,156.9 L340.7,157.3 L339.1,157.5 L337.5,157.8 L335.9,158.0 L334.4,158.2 L332.8,158.4 L331.2,158.5 L329.6,158.7 L328.0,158.8 L326.5,158.9 L324.9,159.0 L323.3,159.1 L321.7,159.1 L320.2,159.2 L318.6,159.2 L317.0,159.2 Z" fill="#efff10"/><path d="M317.0,137.6 L318.6,137.6 L320.2,137.7 L321.9,137.7 L323.5,137.8 L325.1,137.9 L326.7,138.0 L328.4,138.2 L330.0,138.3 L331.6,138.5 L333.2,138.7 L334.8,138.9 L336.5,139.1 L338.1,139.4 L339.7,139.7 L341.3,140.0 L343.0,140.4 L344.6,140.8 L346.2,141.3 L347.8,141.8 L349.4,142.4 L351.1,143.1 L352.7,144.0 L353.2,144.4 L354.3,145.2 L354.4,145.3 L355.2,146.2 L355.5,146.8 L355.8,147.3 L355.9,147.8 L355.9,148.3 L355.9,148.3 L355.9,148.8 L355.8,149.3 L355.5,149.8 L355.2,150.4 L354.4,151.3 L354.3,151.4 L353.2,152.2 L352.7,152.6 L351.1,153.5 L349.4,154.2 L347.8,154.8 L346.2,155.3 L344.6,155.8 L343.0,156.2 L341.3,156.6 L339.7,156.9 L338.1,157.2 L336.5,157.5 L334.8,157.7 L333.2,157.9 L331.6,158.1 L330.0,158.3 L328.4,158.4 L326.7,158.6 L325.1,158.7 L323.5,158.8 L321.9,158.9 L320.2,158.9 L318.6,159.0 L317.0,159.0 Z" fill="#dfff20"/><path d="M317.0,137.8 L318.6,137.9 L320.2,137.9 L321.8,138.0 L323.4,138.1 L325.0,138.2 L326.6,138.3 L328.2,138.5 L329.9,138.6 L331.5,138.8 L333.1,139.0 L334.7,139.3 L336.3,139.5 L337.9,139.8 L339.5,140.1 L341.1,140.5 L342.7,140.9 L344.3,141.4 L345.9,141.9 L347.5,142.5 L349.1,143.2 L350.7,144.1 L351.4,144.5 L352.4,145.3 L352.5,145.4 L353.2,146.2 L353.6,146.8 L353.8,147.4 L353.9,147.8 L354.0,148.3 L354.0,148.3 L353.9,148.8 L353.8,149.2 L353.6,149.8 L353.2,150.4 L352.5,151.2 L352.4,151.3 L351.4,152.1 L350.7,152.5 L349.1,153.4 L347.5,154.1 L345.9,154.7 L344.3,155.2 L342.7,155.7 L341.1,156.1 L339.5,156.5 L337.9,156.8 L336.3,157.1 L334.7,157.3 L333.1,157.6 L331.5,157.8 L329.9,158.0 L328.2,158.1 L326.6,158.3 L325.0,158.4 L323.4,158.5 L321.8,158.6 L320.2,158.7 L318.6,158.7 L317.0,158.8 Z" fill="#cfff30"/><path d="M317.0,138.0 L318.6,138.1 L320.2,138.2 L321.8,138.3 L323.4,138.4 L325.0,138.5 L326.6,138.6 L328.2,138.8 L329.8,139.0 L331.4,139.2 L332.9,139.4 L334.5,139.6 L336.1,139.9 L337.7,140.2 L339.3,140.6 L340.9,141.0 L342.5,141.5 L344.1,142.0 L345.7,142.6 L347.3,143.3 L348.9,144.1 L349.6,144.6 L350.5,145.3 L350.7,145.5 L351.4,146.3 L351.7,146.9 L351.9,147.4 L352.1,147.9 L352.1,148.3 L352.1,148.3 L352.1,148.7 L351.9,149.2 L351.7,149.7 L351.4,150.3 L350.7,151.1 L350.5,151.3 L349.6,152.0 L348.9,152.5 L347.3,153.3 L345.7,154.0 L344.1,154.6 L342.5,155.1 L340.9,155.6 L339.3,156.0 L337.7,156.4 L336.1,156.7 L334.5,157.0 L332.9,157.2 L331.4,157.4 L329.8,157.6 L328.2,157.8 L326.6,158.0 L325.0,158.1 L323.4,158.2 L321.8,158.3 L320.2,158.4 L318.6,158.5 L317.0,158.6 Z" fill="#bfff40"/><path d="M317.0,138.3 L318.6,138.3 L320.2,138.4 L321.8,138.5 L323.3,138.6 L324.9,138.8 L326.5,138.9 L328.1,139.1 L329.7,139.3 L331.3,139.5 L332.9,139.8 L334.4,140.0 L336.0,140.3 L337.6,140.7 L339.2,141.1 L340.8,141.5 L342.4,142.0 L344.0,142.6 L345.6,143.3 L347.1,144.2 L348.0,144.8 L348.7,145.4 L349.0,145.6 L349.6,146.4 L350.0,146.9 L350.2,147.4 L350.3,147.9 L350.3,148.3 L350.3,148.3 L350.3,148.7 L350.2,149.2 L350.0,149.7 L349.6,150.2 L349.0,151.0 L348.7,151.2 L348.0,151.8 L347.1,152.4 L345.6,153.3 L344.0,154.0 L342.4,154.6 L340.8,155.1 L339.2,155.5 L337.6,155.9 L336.0,156.3 L334.4,156.6 L332.9,156.8 L331.3,157.1 L329.7,157.3 L328.1,157.5 L326.5,157.7 L324.9,157.8 L323.3,158.0 L321.8,158.1 L320.2,158.2 L318.6,158.3 L317.0,158.3 Z" fill="#afff50"/><path d="M317.0,138.5 L318.6,138.6 L320.2,138.6 L321.7,138.8 L323.3,138.9 L324.9,139.0 L326.5,139.2 L328.1,139.4 L329.7,139.6 L331.2,139.9 L332.8,140.1 L334.4,140.4 L336.0,140.8 L337.6,141.2 L339.1,141.6 L340.7,142.1 L342.3,142.7 L343.9,143.4 L345.5,144.2 L346.4,144.9 L347.0,145.4 L347.4,145.7 L348.0,146.4 L348.3,147.0 L348.5,147.5 L348.6,147.9 L348.6,148.3 L348.6,148.3 L348.6,148.7 L348.5,149.1 L348.3,149.6 L348.0,150.2 L347.4,150.9 L347.0,151.2 L346.4,151.7 L345.5,152.4 L343.9,153.2 L342.3,153.9 L340.7,154.5 L339.1,155.0 L337.6,155.4 L336.0,155.8 L334.4,156.2 L332.8,156.5 L331.2,156.7 L329.7,157.0 L328.1,157.2 L326.5,157.4 L324.9,157.6 L323.3,157.7 L321.7,157.8 L320.2,158.0 L318.6,158.0 L317.0,158.1 Z" fill="#9fff60"/><path d="M317.0,138.7 L318.6,138.8 L320.2,138.9 L321.7,139.0 L323.3,139.1 L324.9,139.3 L326.5,139.5 L328.1,139.7 L329.6,140.0 L331.2,140.2 L332.8,140.5 L334.4,140.9 L336.0,141.2 L337.5,141.7 L339.1,142.2 L340.7,142.7 L342.3,143.4 L343.9,144.3 L344.9,145.0 L345.4,145.4 L345.8,145.8 L346.4,146.5 L346.7,147.0 L346.9,147.5 L347.0,147.9 L347.0,148.3 L347.0,148.3 L347.0,148.7 L346.9,149.1 L346.7,149.6 L346.4,150.1 L345.8,150.8 L345.4,151.2 L344.9,151.6 L343.9,152.3 L342.3,153.2 L340.7,153.9 L339.1,154.4 L337.5,154.9 L336.0,155.4 L334.4,155.7 L332.8,156.1 L331.2,156.4 L329.6,156.6 L328.1,156.9 L326.5,157.1 L324.9,157.3 L323.3,157.5 L321.7,157.6 L320.2,157.7 L318.6,157.8 L317.0,157.9 Z" fill="#8fff70"/><path d="M317.0,138.9 L318.6,139.0 L320.2,139.1 L321.8,139.3 L323.3,139.4 L324.9,139.6 L326.5,139.8 L328.1,140.0 L329.7,140.3 L331.3,140.6 L332.8,140.9 L334.4,141.3 L336.0,141.7 L337.6,142.2 L339.2,142.8 L340.8,143.5 L342.3,144.3 L343.5,145.1 L343.9,145.4 L344.4,145.9 L344.9,146.6 L345.2,147.1 L345.4,147.5 L345.5,147.9 L345.5,148.3 L345.5,148.3 L345.5,148.7 L345.4,149.1 L345.2,149.5 L344.9,150.0 L344.4,150.7 L343.9,151.2 L343.5,151.5 L342.3,152.3 L340.8,153.1 L339.2,153.8 L337.6,154.4 L336.0,154.9 L334.4,155.3 L332.8,155.7 L331.3,156.0 L329.7,156.3 L328.1,156.6 L326.5,156.8 L324.9,157.0 L323.3,157.2 L321.8,157.3 L320.2,157.5 L318.6,157.6 L317.0,157.7 Z" fill="#80ff80"/><path d="M317.0,139.1 L318.6,139.2 L320.2,139.3 L321.8,139.5 L323.4,139.7 L325.0,139.9 L326.5,140.1 L328.1,140.4 L329.7,140.7 L331.3,141.0 L332.9,141.4 L334.5,141.8 L336.1,142.3 L337.7,142.8 L339.3,143.5 L340.9,144.3 L342.2,145.2 L342.5,145.5 L343.0,145.9 L343.5,146.6 L343.8,147.1 L343.9,147.5 L344.0,147.9 L344.0,148.3 L344.0,148.3 L344.0,148.7 L343.9,149.1 L343.8,149.5 L343.5,150.0 L343.0,150.7 L342.5,151.1 L342.2,151.4 L340.9,152.3 L339.3,153.1 L337.7,153.8 L336.1,154.3 L334.5,154.8 L332.9,155.2 L331.3,155.6 L329.7,155.9 L328.1,156.2 L326.5,156.5 L325.0,156.7 L323.4,156.9 L321.8,157.1 L320.2,157.3 L318.6,157.4 L317.0,157.5 Z" fill="#70ff8f"/><path d="M317.0,139.3 L318.6,139.4 L320.2,139.6 L321.8,139.8 L323.4,139.9 L325.0,140.2 L326.6,140.4 L328.2,140.7 L329.8,141.0 L331.4,141.4 L333.0,141.8 L334.6,142.3 L336.2,142.9 L337.8,143.5 L339.4,144.3 L340.9,145.3 L341.0,145.5 L341.6,146.0 L342.1,146.7 L342.4,147.2 L342.5,147.6 L342.6,147.9 L342.7,148.3 L342.7,148.3 L342.6,148.7 L342.5,149.0 L342.4,149.4 L342.1,149.9 L341.6,150.6 L341.0,151.1 L340.9,151.3 L339.4,152.3 L337.8,153.1 L336.2,153.7 L334.6,154.3 L333.0,154.8 L331.4,155.2 L329.8,155.6 L328.2,155.9 L326.6,156.2 L325.0,156.4 L323.4,156.7 L321.8,156.8 L320.2,157.0 L318.6,157.2 L317.0,157.3 Z" fill="#60ff9f"/><path d="M317.0,139.5 L318.6,139.7 L320.2,139.8 L321.9,140.0 L323.5,140.2 L325.1,140.5 L326.7,140.7 L328.3,141.1 L330.0,141.4 L331.6,141.8 L333.2,142.3 L334.8,142.9 L336.5,143.5 L338.1,144.3 L339.6,145.4 L339.7,145.5 L340.3,146.1 L340.8,146.7 L341.1,147.2 L341.2,147.6 L341.3,147.9 L341.3,148.3 L341.3,148.3 L341.3,148.7 L341.2,149.0 L341.1,149.4 L340.8,149.9 L340.3,150.5 L339.7,151.1 L339.6,151.2 L338.1,152.3 L336.5,153.1 L334.8,153.7 L333.2,154.3 L331.6,154.8 L330.0,155.2 L328.3,155.5 L326.7,155.9 L325.1,156.1 L323.5,156.4 L321.9,156.6 L320.2,156.8 L318.6,156.9 L317.0,157.1 Z" fill="#50ffaf"/><path d="M317.0,139.7 L318.6,139.9 L320.3,140.1 L321.9,140.3 L323.6,140.5 L325.2,140.8 L326.9,141.1 L328.5,141.4 L330.2,141.9 L331.8,142.3 L333.5,142.9 L335.1,143.5 L336.8,144.4 L338.4,145.5 L338.4,145.5 L339.1,146.2 L339.6,146.8 L339.8,147.2 L340.0,147.6 L340.0,148.0 L340.0,148.3 L340.0,148.3 L340.0,148.6 L340.0,149.0 L339.8,149.4 L339.6,149.8 L339.1,150.4 L338.4,151.1 L338.4,151.1 L336.8,152.2 L335.1,153.1 L333.5,153.7 L331.8,154.3 L330.2,154.7 L328.5,155.2 L326.9,155.5 L325.2,155.8 L323.6,156.1 L321.9,156.3 L320.3,156.5 L318.6,156.7 L317.0,156.9 Z" fill="#40ffbf"/><path d="M317.0,139.9 L318.7,140.1 L320.4,140.3 L322.0,140.5 L323.7,140.8 L325.4,141.1 L327.1,141.5 L328.8,141.9 L330.4,142.3 L332.1,142.9 L333.8,143.5 L335.5,144.3 L337.1,145.5 L337.3,145.6 L337.9,146.2 L338.4,146.8 L338.6,147.3 L338.7,147.6 L338.8,148.0 L338.8,148.3 L338.8,148.3 L338.8,148.6 L338.7,149.0 L338.6,149.3 L338.4,149.8 L337.9,150.4 L337.3,151.0 L337.1,151.1 L335.5,152.3 L333.8,153.1 L332.1,153.7 L330.4,154.3 L328.8,154.7 L327.1,155.1 L325.4,155.5 L323.7,155.8 L322.0,156.1 L320.4,156.3 L318.7,156.5 L317.0,156.7 Z" fill="#30ffcf"/><path d="M317.0,140.1 L318.7,140.3 L320.4,140.5 L322.2,140.8 L323.9,141.1 L325.6,141.4 L327.3,141.8 L329.0,142.3 L330.8,142.9 L332.5,143.5 L334.2,144.3 L335.9,145.4 L336.2,145.7 L336.8,146.3 L337.2,146.9 L337.4,147.3 L337.6,147.7 L337.6,148.0 L337.6,148.3 L337.6,148.3 L337.6,148.6 L337.6,148.9 L337.4,149.3 L337.2,149.7 L336.8,150.3 L336.2,150.9 L335.9,151.2 L334.2,152.3 L332.5,153.1 L330.8,153.7 L329.0,154.3 L327.3,154.8 L325.6,155.2 L323.9,155.5 L322.2,155.8 L320.4,156.1 L318.7,156.3 L317.0,156.5 Z" fill="#20ffdf"/><path d="M317.0,140.3 L318.6,140.5 L320.3,140.7 L321.9,141.0 L323.5,141.3 L325.1,141.6 L326.8,142.0 L328.4,142.5 L330.0,143.0 L331.6,143.7 L333.3,144.5 L334.9,145.5 L335.2,145.8 L335.7,146.4 L336.1,146.9 L336.3,147.3 L336.4,147.7 L336.5,148.0 L336.5,148.3 L336.5,148.3 L336.5,148.6 L336.4,148.9 L336.3,149.3 L336.1,149.7 L335.7,150.2 L335.2,150.8 L334.9,151.1 L333.3,152.1 L331.6,152.9 L330.0,153.6 L328.4,154.1 L326.8,154.6 L325.1,155.0 L323.5,155.3 L321.9,155.6 L320.3,155.9 L318.6,156.1 L317.0,156.3 Z" fill="#10ffef"/><path d="M317.0,140.5 L318.7,140.7 L320.4,141.0 L322.0,141.3 L323.7,141.6 L325.4,142.0 L327.1,142.5 L328.7,143.0 L330.4,143.6 L332.1,144.4 L333.8,145.5 L334.1,145.9 L334.7,146.4 L335.1,147.0 L335.2,147.4 L335.4,147.7 L335.4,148.0 L335.4,148.3 L335.4,148.3 L335.4,148.6 L335.4,148.9 L335.2,149.2 L335.1,149.6 L334.7,150.2 L334.1,150.7 L333.8,151.1 L332.1,152.2 L330.4,153.0 L328.7,153.6 L327.1,154.1 L325.4,154.6 L323.7,155.0 L322.0,155.3 L320.4,155.6 L318.7,155.9 L317.0,156.1 Z" fill="#00ffff"/><path d="M317.0,140.7 L318.7,141.0 L320.5,141.2 L322.2,141.6 L324.0,142.0 L325.7,142.4 L327.4,142.9 L329.2,143.6 L330.9,144.4 L332.6,145.5 L333.2,145.9 L333.7,146.5 L334.0,147.0 L334.2,147.4 L334.3,147.7 L334.4,148.0 L334.4,148.3 L334.4,148.3 L334.4,148.6 L334.3,148.9 L334.2,149.2 L334.0,149.6 L333.7,150.1 L333.2,150.7 L332.6,151.1 L330.9,152.2 L329.2,153.0 L327.4,153.7 L325.7,154.2 L324.0,154.6 L322.2,155.0 L320.5,155.4 L318.7,155.6 L317.0,155.9 Z" fill="#00efff"/><path d="M317.0,140.9 L318.8,141.2 L320.6,141.5 L322.5,141.9 L324.3,142.3 L326.1,142.9 L327.9,143.5 L329.7,144.3 L331.6,145.4 L332.2,146.0 L332.7,146.6 L333.0,147.1 L333.2,147.4 L333.3,147.7 L333.4,148.0 L333.4,148.3 L333.4,148.3 L333.4,148.6 L333.3,148.9 L333.2,149.2 L333.0,149.5 L332.7,150.0 L332.2,150.6 L331.6,151.2 L329.7,152.3 L327.9,153.1 L326.1,153.7 L324.3,154.3 L322.5,154.7 L320.6,155.1 L318.8,155.4 L317.0,155.7 Z" fill="#00dfff"/><path d="M317.0,141.1 L318.7,141.4 L320.4,141.7 L322.1,142.1 L323.8,142.5 L325.6,143.1 L327.3,143.7 L329.0,144.5 L330.7,145.5 L331.3,146.1 L331.8,146.6 L332.1,147.1 L332.2,147.5 L332.3,147.8 L332.4,148.0 L332.4,148.3 L332.4,148.3 L332.4,148.6 L332.3,148.8 L332.2,149.1 L332.1,149.5 L331.8,150.0 L331.3,150.5 L330.7,151.1 L329.0,152.1 L327.3,152.9 L325.6,153.5 L323.8,154.1 L322.1,154.5 L320.4,154.9 L318.7,155.2 L317.0,155.5 Z" fill="#00cfff"/><path d="M317.0,141.3 L318.8,141.6 L320.6,142.0 L322.4,142.4 L324.2,143.0 L326.0,143.6 L327.8,144.4 L329.7,145.5 L330.4,146.2 L330.9,146.7 L331.2,147.2 L331.3,147.5 L331.4,147.8 L331.4,148.0 L331.5,148.3 L331.5,148.3 L331.4,148.6 L331.4,148.8 L331.3,149.1 L331.2,149.4 L330.9,149.9 L330.4,150.4 L329.7,151.1 L327.8,152.2 L326.0,153.0 L324.2,153.6 L322.4,154.2 L320.6,154.6 L318.8,155.0 L317.0,155.3 Z" fill="#00bfff"/><path d="M317.0,141.5 L318.7,141.8 L320.4,142.2 L322.1,142.6 L323.8,143.1 L325.5,143.8 L327.2,144.5 L328.9,145.6 L329.6,146.3 L330.0,146.7 L330.3,147.2 L330.4,147.5 L330.5,147.8 L330.5,148.1 L330.6,148.3 L330.6,148.3 L330.5,148.5 L330.5,148.8 L330.4,149.1 L330.3,149.4 L330.0,149.9 L329.6,150.3 L328.9,151.0 L327.2,152.1 L325.5,152.8 L323.8,153.5 L322.1,154.0 L320.4,154.4 L318.7,154.8 L317.0,155.1 Z" fill="#00afff"/><path d="M317.0,141.7 L318.8,142.1 L320.6,142.5 L322.4,143.0 L324.2,143.6 L326.1,144.4 L327.9,145.5 L328.8,146.3 L329.2,146.8 L329.4,147.2 L329.5,147.6 L329.6,147.8 L329.7,148.1 L329.7,148.3 L329.7,148.3 L329.7,148.5 L329.6,148.8 L329.5,149.0 L329.4,149.4 L329.2,149.8 L328.8,150.3 L327.9,151.1 L326.1,152.2 L324.2,153.0 L322.4,153.6 L320.6,154.1 L318.8,154.5 L317.0,154.9 Z" fill="#009fff"/><path d="M317.0,141.9 L319.0,142.4 L320.9,142.9 L322.9,143.5 L324.9,144.3 L326.9,145.4 L328.0,146.4 L328.3,146.9 L328.6,147.3 L328.7,147.6 L328.8,147.8 L328.8,148.1 L328.8,148.3 L328.8,148.3 L328.8,148.5 L328.8,148.8 L328.7,149.0 L328.6,149.3 L328.3,149.7 L328.0,150.2 L326.9,151.2 L324.9,152.3 L322.9,153.1 L320.9,153.7 L319.0,154.2 L317.0,154.7 Z" fill="#008fff"/><path d="M317.0,142.1 L318.8,142.6 L320.7,143.1 L322.5,143.7 L324.3,144.5 L326.2,145.5 L327.2,146.5 L327.6,146.9 L327.8,147.3 L327.9,147.6 L328.0,147.9 L328.0,148.1 L328.0,148.3 L328.0,148.3 L328.0,148.5 L328.0,148.7 L327.9,149.0 L327.8,149.3 L327.6,149.7 L327.2,150.1 L326.2,151.1 L324.3,152.1 L322.5,152.9 L320.7,153.5 L318.8,154.0 L317.0,154.5 Z" fill="#0080ff"/><path d="M317.0,142.4 L319.0,142.9 L321.1,143.5 L323.1,144.3 L325.2,145.4 L326.5,146.6 L326.8,147.0 L327.0,147.4 L327.1,147.6 L327.2,147.9 L327.2,148.1 L327.2,148.3 L327.2,148.3 L327.2,148.5 L327.2,148.7 L327.1,149.0 L327.0,149.2 L326.8,149.6 L326.5,150.0 L325.2,151.2 L323.1,152.3 L321.1,153.1 L319.0,153.7 L317.0,154.2 Z" fill="#0070ff"/><path d="M317.0,142.6 L318.9,143.1 L320.8,143.7 L322.7,144.4 L324.5,145.5 L325.8,146.6 L326.0,147.0 L326.2,147.4 L326.3,147.7 L326.4,147.9 L326.4,148.1 L326.4,148.3 L326.4,148.3 L326.4,148.5 L326.4,148.7 L326.3,148.9 L326.2,149.2 L326.0,149.6 L325.8,150.0 L324.5,151.1 L322.7,152.2 L320.8,152.9 L318.9,153.5 L317.0,154.0 Z" fill="#0060ff"/><path d="M317.0,142.8 L319.2,143.4 L321.3,144.2 L323.5,145.3 L325.1,146.7 L325.3,147.1 L325.5,147.4 L325.6,147.7 L325.6,147.9 L325.7,148.1 L325.7,148.3 L325.7,148.3 L325.7,148.5 L325.6,148.7 L325.6,148.9 L325.5,149.2 L325.3,149.5 L325.1,149.9 L323.5,151.3 L321.3,152.4 L319.2,153.2 L317.0,153.8 Z" fill="#0050ff"/><path d="M317.0,143.0 L319.0,143.6 L321.0,144.4 L323.0,145.5 L324.4,146.8 L324.6,147.2 L324.8,147.5 L324.9,147.7 L324.9,147.9 L324.9,148.1 L324.9,148.3 L324.9,148.3 L324.9,148.5 L324.9,148.7 L324.9,148.9 L324.8,149.1 L324.6,149.4 L324.4,149.8 L323.0,151.1 L321.0,152.2 L319.0,153.0 L317.0,153.6 Z" fill="#0040ff"/><path d="M317.0,143.2 L319.4,144.1 L321.8,145.2 L323.7,146.9 L323.9,147.2 L324.1,147.5 L324.2,147.8 L324.2,148.0 L324.2,148.1 L324.2,148.3 L324.2,148.3 L324.2,148.5 L324.2,148.6 L324.2,148.8 L324.1,149.1 L323.9,149.4 L323.7,149.7 L321.8,151.4 L319.4,152.5 L317.0,153.4 Z" fill="#0030ff"/><path d="M317.0,143.5 L319.2,144.3 L321.4,145.4 L323.1,146.9 L323.3,147.3 L323.4,147.6 L323.5,147.8 L323.5,148.0 L323.5,148.1 L323.5,148.3 L323.5,148.3 L323.5,148.5 L323.5,148.6 L323.5,148.8 L323.4,149.0 L323.3,149.3 L323.1,149.7 L321.4,151.2 L319.2,152.3 L317.0,153.1 Z" fill="#0020ff"/><path d="M317.0,143.7 L319.0,144.5 L320.9,145.5 L322.5,147.0 L322.6,147.3 L322.8,147.6 L322.8,147.8 L322.8,148.0 L322.9,148.1 L322.9,148.3 L322.9,148.3 L322.9,148.5 L322.8,148.6 L322.8,148.8 L322.8,149.0 L322.6,149.3 L322.5,149.6 L320.9,151.1 L319.0,152.1 L317.0,152.9 Z" fill="#0010ff"/><path d="M317.0,144.0 L318.7,144.7 L320.5,145.7 L321.9,147.1 L322.0,147.4 L322.1,147.7 L322.2,147.8 L322.2,148.0 L322.2,148.2 L322.2,148.3 L322.2,148.3 L322.2,148.4 L322.2,148.6 L322.2,148.8 L322.1,148.9 L322.0,149.2 L321.9,149.5 L320.5,150.9 L318.7,151.9 L317.0,152.6 Z" fill="#0000ff"/><path d="M317.0,144.2 L318.5,144.9 L320.1,145.9 L321.3,147.2 L321.4,147.4 L321.5,147.7 L321.5,147.9 L321.6,148.0 L321.6,148.2 L321.6,148.3 L321.6,148.3 L321.6,148.4 L321.6,148.6 L321.5,148.7 L321.5,148.9 L321.4,149.2 L321.3,149.4 L320.1,150.7 L318.5,151.7 L317.0,152.4 Z" fill="#0000ef"/><path d="M317.0,144.5 L318.3,145.2 L319.6,146.0 L320.7,147.3 L320.8,147.5 L320.9,147.7 L320.9,147.9 L321.0,148.0 L321.0,148.2 L321.0,148.3 L321.0,148.3 L321.0,148.4 L321.0,148.6 L320.9,148.7 L320.9,148.9 L320.8,149.1 L320.7,149.3 L319.6,150.6 L318.3,151.4 L317.0,152.1 Z" fill="#0000df"/><path d="M317.0,144.8 L318.1,145.4 L319.2,146.2 L320.1,147.3 L320.2,147.6 L320.3,147.8 L320.3,147.9 L320.3,148.1 L320.4,148.2 L320.4,148.3 L320.4,148.3 L320.4,148.4 L320.3,148.5 L320.3,148.7 L320.3,148.8 L320.2,149.0 L320.1,149.3 L319.2,150.4 L318.1,151.2 L317.0,151.8 Z" fill="#0000cf"/><path d="M317.0,145.1 L317.9,145.7 L318.9,146.4 L319.6,147.4 L319.7,147.6 L319.7,147.8 L319.7,148.0 L319.8,148.1 L319.8,148.2 L319.8,148.3 L319.8,148.3 L319.8,148.4 L319.8,148.5 L319.7,148.6 L319.7,148.8 L319.7,149.0 L319.6,149.2 L318.9,150.2 L317.9,150.9 L317.0,151.5 Z" fill="#0000bf"/><path d="M317.0,145.5 L317.7,146.0 L318.5,146.6 L319.0,147.5 L319.1,147.7 L319.2,147.9 L319.2,148.0 L319.2,148.1 L319.2,148.2 L319.2,148.3 L319.2,148.3 L319.2,148.4 L319.2,148.5 L319.2,148.6 L319.2,148.7 L319.1,148.9 L319.0,149.1 L318.5,150.0 L317.7,150.6 L317.0,151.1 Z" fill="#0000af"/><path d="M317.0,145.8 L317.5,146.3 L318.1,146.9 L318.5,147.6 L318.6,147.8 L318.6,147.9 L318.6,148.0 L318.6,148.1 L318.6,148.2 L318.6,148.3 L318.6,148.3 L318.6,148.4 L318.6,148.5 L318.6,148.6 L318.6,148.7 L318.6,148.8 L318.5,149.0 L318.1,149.7 L317.5,150.3 L317.0,150.8 Z" fill="#00009f"/><path d="M317.0,146.3 L317.4,146.6 L317.7,147.1 L318.0,147.8 L318.1,147.9 L318.1,148.0 L318.1,148.1 L318.1,148.2 L318.1,148.2 L318.1,148.3 L318.1,148.3 L318.1,148.4 L318.1,148.4 L318.1,148.5 L318.1,148.6 L318.1,148.7 L318.0,148.8 L317.7,149.5 L317.4,150.0 L317.0,150.3 Z" fill="#00008f"/><rect x="316.00" y="55.50" width="233.40" height="4.00" fill="#fff"/><rect x="316.00" y="238.70" width="233.40" height="5.00" fill="#fff"/><rect x="544.40" y="55.50" width="6.00" height="187.20" fill="#fff"/>
<line x1="317.00" y1="129.30" x2="544.40" y2="60.90" stroke="#4c4644" stroke-width="1" stroke-opacity="0.92"/>
<line x1="317.00" y1="168.90" x2="544.40" y2="237.10" stroke="#4c4644" stroke-width="1" stroke-opacity="0.92"/>
<rect x="314.00" y="129.30" width="3" height="39.00" fill="#000"/>
<line x1="317.20" y1="238.50" x2="317.20" y2="240.90" stroke="#222" stroke-width="0.9"/><line x1="345.62" y1="238.50" x2="345.62" y2="240.90" stroke="#222" stroke-width="0.9"/><line x1="374.05" y1="238.50" x2="374.05" y2="240.90" stroke="#222" stroke-width="0.9"/><line x1="402.47" y1="238.50" x2="402.47" y2="240.90" stroke="#222" stroke-width="0.9"/><line x1="430.90" y1="238.50" x2="430.90" y2="240.90" stroke="#222" stroke-width="0.9"/><line x1="459.32" y1="238.50" x2="459.32" y2="240.90" stroke="#222" stroke-width="0.9"/><line x1="487.75" y1="238.50" x2="487.75" y2="240.90" stroke="#222" stroke-width="0.9"/><line x1="516.17" y1="238.50" x2="516.17" y2="240.90" stroke="#222" stroke-width="0.9"/><line x1="544.60" y1="238.50" x2="544.60" y2="240.90" stroke="#222" stroke-width="0.9"/>
<text x="316.00" y="253.90" text-anchor="middle" font-size="9" font-weight="normal" font-style="normal" >0</text>
<text x="344.43" y="253.90" text-anchor="middle" font-size="9" font-weight="normal" font-style="normal" >5</text>
<text x="373.85" y="253.90" text-anchor="middle" font-size="9" font-weight="normal" font-style="normal" >10</text>
<text x="402.27" y="253.90" text-anchor="middle" font-size="9" font-weight="normal" font-style="normal" >15</text>
<text x="430.70" y="253.90" text-anchor="middle" font-size="9" font-weight="normal" font-style="normal" >20</text>
<text x="459.12" y="253.90" text-anchor="middle" font-size="9" font-weight="normal" font-style="normal" >25</text>
<text x="487.55" y="253.90" text-anchor="middle" font-size="9" font-weight="normal" font-style="normal" >30</text>
<text x="515.97" y="253.90" text-anchor="middle" font-size="9" font-weight="normal" font-style="normal" >35</text>
<text x="544.40" y="253.90" text-anchor="middle" font-size="9" font-weight="normal" font-style="normal" >40</text>
<text x="302.00" y="131.90" text-anchor="middle" font-size="9" font-weight="normal" font-style="normal" >0.5</text>
<text x="300.70" y="152.10" text-anchor="middle" font-size="9" font-weight="normal" font-style="normal" >0</text>
<text x="303.00" y="172.00" text-anchor="middle" font-size="9" font-weight="normal" font-style="normal" >-0.5</text>
<text x="430.90" y="265.90" text-anchor="middle" font-size="9" font-weight="bold" font-style="normal" >x/D</text>
<text transform="translate(288.6,148.8) rotate(-90)" text-anchor="middle" font-size="9" font-weight="bold">y/D</text>
<text x="290.50" y="265.00" text-anchor="start" font-size="11" font-weight="bold" font-style="normal" >(b)</text>
<text x="416.90" y="10.80" text-anchor="start" font-size="11.5" font-weight="bold" font-style="italic">v<tspan font-size="7.6" font-style="normal" dy="0.2" dx="-0.5">x</tspan><tspan dy="-0.2">/</tspan>v<tspan font-size="6.9" font-style="normal" dy="0.2">0</tspan></text>
</g>
</svg></body></html>
